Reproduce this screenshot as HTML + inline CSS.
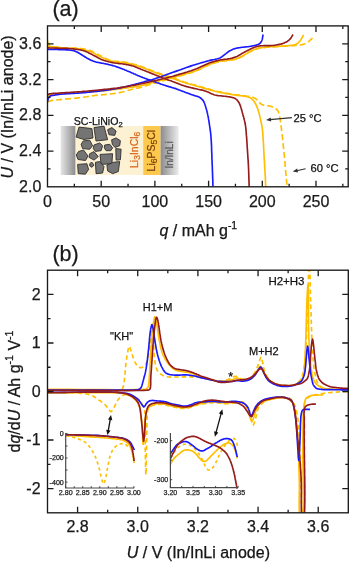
<!DOCTYPE html>
<html><head><meta charset="utf-8"><style>
html,body{margin:0;padding:0;background:#fff;}
svg{display:block;font-family:"Liberation Sans", sans-serif;will-change:transform;}
text{stroke:currentColor;stroke-width:0.25px;}
</style></head><body>
<svg width="350" height="562" viewBox="0 0 350 562">
<rect width="350" height="562" fill="#fff"/>
<defs><clipPath id="ca"><rect x="47.50" y="25.90" width="300.70" height="160.90"/></clipPath><clipPath id="cb"><rect x="47.50" y="270.20" width="300.80" height="242.60"/></clipPath><linearGradient id="gcc" x1="0" x2="1" y1="0" y2="0"><stop offset="0" stop-color="#e6e6e6"/><stop offset="1" stop-color="#8c8c8c"/></linearGradient><linearGradient id="gan" x1="0" x2="1" y1="0" y2="0"><stop offset="0" stop-color="#8c8c8c"/><stop offset="1" stop-color="#ececec"/></linearGradient><marker id="ah" viewBox="0 0 10 10" refX="9" refY="5" markerWidth="5" markerHeight="5" orient="auto-start-reverse"><path d="M0,0L10,5L0,10z" fill="#111"/></marker></defs>
<text x="52.40" y="15.50" font-size="21.50" text-anchor="start" fill="#1a1a1a" style="color:#1a1a1a">(a)</text>
<text x="52.40" y="261.00" font-size="21.50" text-anchor="start" fill="#1a1a1a" style="color:#1a1a1a">(b)</text>
<rect x="60.6" y="126" width="15" height="49" fill="url(#gcc)"/>
<rect x="75.6" y="126" width="67.6" height="49" fill="#fdf1d4"/>
<rect x="143.2" y="126" width="17.4" height="49" fill="#fcc94c"/>
<rect x="160.6" y="126" width="18" height="49" fill="url(#gan)"/>
<polygon points="79.0,127.1 91.9,128.6 93.0,138.0 84.0,139.5 76.1,137.1" fill="#747474" stroke="#2e2e2e" stroke-width="0.9" stroke-linejoin="round"/>
<polygon points="94.0,127.6 104.0,126.1 107.6,139.7 96.0,141.0" fill="#747474" stroke="#2e2e2e" stroke-width="0.9" stroke-linejoin="round"/>
<polygon points="107.6,129.7 111.9,127.6 116.1,131.1 114.7,135.4 109.0,134.7" fill="#747474" stroke="#2e2e2e" stroke-width="0.9" stroke-linejoin="round"/>
<polygon points="83.3,140.9 89.7,140.2 92.6,145.7 89.7,149.3 82.6,148.6 81.1,144.3" fill="#747474" stroke="#2e2e2e" stroke-width="0.9" stroke-linejoin="round"/>
<polygon points="94.0,145.0 99.7,142.9 102.6,145.7 101.1,150.7 95.4,151.4 93.3,148.6" fill="#747474" stroke="#2e2e2e" stroke-width="0.9" stroke-linejoin="round"/>
<polygon points="104.7,145.0 109.8,144.3 112.6,147.9 110.8,150.7 106.1,150.7 104.3,147.9" fill="#747474" stroke="#2e2e2e" stroke-width="0.9" stroke-linejoin="round"/>
<polygon points="111.6,139.8 116.1,137.9 120.4,140.7 119.7,145.7 115.0,147.5 112.3,144.3" fill="#747474" stroke="#2e2e2e" stroke-width="0.9" stroke-linejoin="round"/>
<polygon points="78.5,151.5 83.5,150.0 88.0,156.0 85.5,160.5 78.0,159.5 76.3,155.0" fill="#747474" stroke="#2e2e2e" stroke-width="0.9" stroke-linejoin="round"/>
<polygon points="89.7,153.7 94.0,151.6 98.3,156.6 94.0,160.1 89.0,157.3" fill="#747474" stroke="#2e2e2e" stroke-width="0.9" stroke-linejoin="round"/>
<polygon points="100.0,154.4 112.6,153.7 111.9,163.7 101.1,164.4" fill="#747474" stroke="#2e2e2e" stroke-width="0.9" stroke-linejoin="round"/>
<polygon points="115.8,148.5 121.1,149.2 120.4,159.8 116.1,160.1" fill="#747474" stroke="#2e2e2e" stroke-width="0.9" stroke-linejoin="round"/>
<polygon points="77.6,164.4 86.9,163.7 88.6,169.4 85.4,174.2 78.3,173.7" fill="#747474" stroke="#2e2e2e" stroke-width="0.9" stroke-linejoin="round"/>
<polygon points="89.6,164.0 91.6,162.0 94.0,165.0 92.0,167.3 89.9,166.0" fill="#747474" stroke="#2e2e2e" stroke-width="0.9" stroke-linejoin="round"/>
<polygon points="95.4,162.3 99.7,161.6 104.0,166.6 102.6,173.0 96.1,173.7" fill="#747474" stroke="#2e2e2e" stroke-width="0.9" stroke-linejoin="round"/>
<polygon points="106.9,165.1 113.3,162.3 119.7,161.6 118.3,171.6 112.6,173.7 107.6,170.9" fill="#747474" stroke="#2e2e2e" stroke-width="0.9" stroke-linejoin="round"/>
<text x="73.70" y="124.60" font-size="10.60" text-anchor="start" fill="#111" style="color:#111">SC-LiNiO<tspan font-size="7.6" dy="2.4">2</tspan></text>
<text transform="translate(138.2,168) rotate(-90)" font-size="10.5" fill="#d8691e" style="color:#d8691e">Li<tspan font-size="8.5" dy="2">3</tspan><tspan dy="-2">InCl</tspan><tspan font-size="8.5" dy="2">6</tspan></text>
<text transform="translate(154.6,171.4) rotate(-90)" font-size="10.5" fill="#7a3f0c" style="color:#7a3f0c">Li<tspan font-size="8.5" dy="2">6</tspan><tspan dy="-2">PS</tspan><tspan font-size="8.5" dy="2">5</tspan><tspan dy="-2">Cl</tspan></text>
<text transform="translate(173,168.6) rotate(-90)" font-size="10" fill="#5a5a5a" style="color:#5a5a5a">In/InLi</text>
<g clip-path="url(#ca)"><path d="M47.5,40.7L47.6,41.0L47.7,41.4L47.8,41.7L47.9,42.1L47.9,42.4L48.0,42.8L48.1,43.1L48.2,43.4L48.4,43.7L48.5,44.0L48.6,44.2L48.7,44.4L48.8,44.6L49.0,44.8L49.1,44.9L49.2,45.1L49.4,45.3L49.6,45.4L49.8,45.6L50.0,45.7L50.6,46.0L51.4,46.2L52.2,46.4L53.2,46.6L54.2,46.8L55.3,47.0L56.4,47.1L57.6,47.2L58.8,47.4L60.0,47.5L61.7,47.7L63.7,47.8L65.7,47.8L67.8,47.9L70.0,47.9L72.2,48.0L74.3,48.0L76.3,48.1L78.3,48.2L80.0,48.4L81.2,48.6L82.3,48.7L83.4,48.9L84.4,49.1L85.4,49.3L86.4,49.5L87.3,49.7L88.2,49.9L89.1,50.2L90.0,50.5L90.7,50.8L91.3,51.0L91.9,51.3L92.5,51.6L93.1,51.9L93.7,52.2L94.3,52.6L94.8,52.9L95.4,53.2L96.0,53.5L96.6,53.8L97.2,54.1L97.8,54.4L98.4,54.7L99.0,55.0L99.6,55.3L100.2,55.6L100.8,55.9L101.4,56.2L102.0,56.5L102.7,56.8L103.4,57.2L104.1,57.5L104.8,57.9L105.5,58.3L106.2,58.6L106.9,58.9L107.6,59.3L108.3,59.5L109.0,59.8L109.6,60.0L110.2,60.2L110.8,60.3L111.3,60.5L111.9,60.6L112.5,60.7L113.1,60.9L113.7,61.0L114.3,61.1L115.0,61.2L115.9,61.3L116.8,61.4L117.8,61.5L118.8,61.6L119.8,61.7L120.9,61.7L121.9,61.8L123.0,61.9L124.0,62.0L125.0,62.2L126.0,62.4L127.0,62.6L128.0,62.8L129.0,63.0L130.0,63.3L131.0,63.5L132.0,63.8L133.0,64.0L134.0,64.3L135.0,64.6L136.0,64.9L137.0,65.2L138.0,65.5L139.0,65.8L140.0,66.1L141.0,66.4L142.0,66.8L143.0,67.1L144.0,67.4L145.0,67.8L146.0,68.2L147.0,68.6L148.0,69.0L149.0,69.4L150.0,69.8L150.9,70.2L151.9,70.6L153.0,71.0L154.0,71.4L155.0,71.8L156.1,72.2L157.3,72.6L158.4,73.0L159.6,73.4L160.8,73.9L162.0,74.3L163.1,74.6L164.3,75.0L165.4,75.4L166.5,75.8L167.4,76.1L168.3,76.4L169.1,76.7L170.0,77.0L170.8,77.3L171.6,77.6L172.4,77.9L173.3,78.2L174.1,78.5L175.0,78.8L176.0,79.1L176.9,79.5L177.9,79.9L178.9,80.2L179.9,80.6L181.0,80.9L182.0,81.3L183.0,81.6L184.0,82.0L185.0,82.3L186.0,82.6L187.0,82.9L188.0,83.2L189.0,83.5L190.0,83.7L191.0,84.0L192.0,84.3L193.0,84.5L194.0,84.8L195.0,85.1L196.0,85.4L197.0,85.7L198.0,86.0L199.0,86.3L200.0,86.5L201.0,86.8L202.0,87.1L203.0,87.4L204.0,87.7L205.0,88.0L206.0,88.3L207.0,88.6L208.0,88.9L209.0,89.2L210.0,89.4L211.0,89.7L212.0,90.0L213.0,90.3L214.0,90.5L215.0,90.8L216.0,91.0L217.0,91.3L218.0,91.5L219.0,91.7L220.0,91.9L221.0,92.1L222.0,92.3L223.0,92.5L224.0,92.7L225.0,92.9L226.0,93.1L227.0,93.3L228.0,93.5L229.0,93.6L230.0,93.8L231.0,94.0L232.0,94.1L233.0,94.3L234.0,94.4L235.0,94.6L236.0,94.7L237.0,94.9L238.0,95.0L239.0,95.1L240.0,95.2L241.0,95.3L242.0,95.4L243.0,95.6L244.0,95.7L245.0,95.9L246.0,96.1L247.1,96.2L248.1,96.4L249.1,96.6L250.2,96.8L251.2,97.0L252.2,97.2L253.2,97.5L254.1,97.9L255.0,98.3L255.8,98.8L256.6,99.4L257.3,100.1L258.0,100.8L258.7,101.6L259.3,102.3L260.0,103.0L260.7,103.6L261.3,104.2L262.0,104.6L262.5,104.8L263.0,105.0L263.5,105.1L264.0,105.2L264.5,105.3L265.0,105.3L265.5,105.4L266.0,105.4L266.5,105.5L267.0,105.6L267.5,105.7L268.0,105.8L268.5,105.9L269.0,105.9L269.5,106.0L270.0,106.1L270.5,106.2L271.0,106.4L271.5,106.5L272.0,106.7L272.6,107.0L273.2,107.2L273.8,107.6L274.4,107.9L275.0,108.3L275.6,108.6L276.2,109.1L276.7,109.5L277.2,109.9L277.6,110.4L277.9,110.8L278.2,111.3L278.4,111.7L278.6,112.2L278.7,112.7L278.8,113.2L279.0,113.7L279.1,114.3L279.2,114.9L279.4,115.6L279.7,116.9L280.0,118.4L280.3,120.1L280.5,121.8L280.8,123.7L281.0,125.6L281.3,127.6L281.5,129.6L281.8,131.6L282.0,133.6L282.3,136.0L282.6,138.4L282.8,140.9L283.1,143.5L283.3,146.1L283.6,148.7L283.9,151.4L284.1,154.0L284.4,156.7L284.6,159.3L284.9,162.1L285.1,164.9L285.4,167.7L285.6,170.5L285.9,173.3L286.1,176.2L286.4,179.0L286.6,181.8L286.9,184.7L287.1,187.5" fill="none" stroke="#ffbf00" stroke-width="1.65" stroke-linejoin="round" stroke-dasharray="6,3"/><path d="M47.5,102.0L47.7,101.9L48.0,101.8L48.2,101.7L48.4,101.5L48.6,101.4L48.9,101.3L49.1,101.2L49.4,101.1L49.7,101.0L50.0,100.9L50.7,100.7L51.5,100.6L52.4,100.4L53.3,100.3L54.4,100.2L55.4,100.1L56.5,100.0L57.7,99.8L58.8,99.7L60.0,99.6L61.7,99.4L63.6,99.2L65.6,99.1L67.6,98.9L69.8,98.7L71.9,98.5L74.0,98.3L76.1,98.1L78.1,97.9L80.0,97.7L81.6,97.5L83.3,97.3L84.9,97.0L86.5,96.8L88.1,96.5L89.7,96.3L91.2,96.1L92.5,95.8L93.8,95.7L95.0,95.5L95.6,95.4L96.1,95.4L96.6,95.3L97.0,95.3L97.5,95.2L97.9,95.2L98.4,95.2L98.8,95.1L99.4,95.1L100.0,95.0L101.3,94.9L102.8,94.7L104.5,94.6L106.2,94.4L108.1,94.2L110.0,94.0L111.9,93.8L113.8,93.6L115.7,93.3L117.5,93.0L119.3,92.6L121.2,92.2L123.1,91.8L125.0,91.3L126.9,90.7L128.8,90.2L130.5,89.8L132.2,89.3L133.7,88.9L135.0,88.6L135.6,88.5L136.1,88.4L136.6,88.3L137.1,88.2L137.5,88.1L138.0,88.0L138.4,88.0L138.9,87.9L139.4,87.7L140.0,87.6L141.2,87.3L142.5,86.9L143.8,86.5L145.3,86.0L146.9,85.5L148.5,85.0L150.1,84.5L151.7,84.0L153.4,83.5L155.0,83.0L156.9,82.4L158.8,81.9L160.8,81.3L162.8,80.8L164.8,80.2L166.9,79.6L168.9,79.0L171.0,78.5L173.0,77.9L175.0,77.3L177.0,76.7L179.1,76.1L181.1,75.6L183.2,75.0L185.2,74.4L187.2,73.8L189.2,73.2L191.2,72.6L193.1,72.0L195.0,71.3L196.6,70.7L198.2,70.0L199.8,69.3L201.3,68.5L202.8,67.8L204.3,67.0L205.8,66.3L207.2,65.7L208.6,65.0L210.0,64.5L211.1,64.1L212.1,63.7L213.1,63.4L214.1,63.1L215.1,62.8L216.1,62.5L217.0,62.2L218.0,62.0L219.0,61.7L220.0,61.5L221.0,61.3L222.0,61.2L223.0,61.0L224.1,60.9L225.1,60.8L226.1,60.7L227.1,60.6L228.1,60.5L229.1,60.4L230.0,60.3L230.8,60.2L231.5,60.1L232.2,60.0L232.9,59.8L233.6,59.7L234.3,59.6L235.0,59.5L235.7,59.3L236.3,59.1L237.0,58.9L237.6,58.7L238.2,58.4L238.8,58.2L239.4,57.9L240.0,57.6L240.6,57.3L241.2,57.0L241.8,56.7L242.4,56.3L243.0,56.0L243.7,55.6L244.4,55.2L245.1,54.7L245.8,54.3L246.5,53.8L247.2,53.4L247.9,52.9L248.6,52.5L249.3,52.1L250.0,51.7L250.7,51.4L251.4,51.0L252.2,50.7L252.9,50.4L253.7,50.1L254.4,49.8L255.1,49.6L255.8,49.3L256.4,49.1L257.0,48.9L257.3,48.8L257.6,48.7L257.9,48.6L258.2,48.5L258.4,48.4L258.7,48.3L259.0,48.2L259.3,48.2L259.6,48.1L260.0,48.0L261.0,47.8L262.3,47.7L263.6,47.6L265.2,47.4L266.8,47.3L268.4,47.2L270.1,47.1L271.8,47.0L273.4,46.9L275.0,46.8L276.5,46.7L278.0,46.6L279.6,46.5L281.1,46.4L282.7,46.3L284.2,46.2L285.7,46.1L287.2,46.0L288.6,45.9L290.0,45.8L291.1,45.7L292.2,45.7L293.2,45.6L294.3,45.6L295.3,45.5L296.3,45.4L297.2,45.4L298.2,45.3L299.1,45.1L300.0,45.0L300.7,44.9L301.4,44.7L302.1,44.6L302.8,44.4L303.5,44.2L304.1,44.0L304.8,43.8L305.4,43.6L306.0,43.4L306.5,43.1L306.9,42.9L307.3,42.6L307.7,42.3L308.0,42.1L308.4,41.8L308.7,41.5L309.0,41.2L309.4,40.9L309.7,40.6L310.0,40.3L310.3,40.1L310.5,39.8L310.8,39.6L311.0,39.4L311.3,39.1L311.5,38.9L311.8,38.7L312.0,38.5L312.3,38.2L312.5,38.0" fill="none" stroke="#ffbf00" stroke-width="1.65" stroke-linejoin="round" stroke-dasharray="6,3"/><path d="M47.5,46.4L48.8,46.5L50.0,46.6L51.3,46.8L52.6,46.9L53.8,47.0L55.1,47.2L56.4,47.3L57.6,47.4L58.8,47.5L60.0,47.6L61.0,47.7L62.1,47.7L63.1,47.8L64.1,47.9L65.1,47.9L66.1,48.0L67.0,48.0L68.0,48.1L69.0,48.1L70.0,48.2L71.0,48.3L72.0,48.3L73.0,48.4L74.0,48.5L75.0,48.5L76.0,48.6L77.0,48.7L78.0,48.8L79.0,48.9L80.0,49.1L81.1,49.3L82.2,49.5L83.3,49.7L84.5,50.0L85.6,50.2L86.7,50.5L87.8,50.8L88.8,51.1L89.8,51.4L90.7,51.7L91.3,51.9L91.9,52.2L92.4,52.5L93.0,52.8L93.5,53.1L94.0,53.3L94.5,53.6L95.0,53.9L95.5,54.2L96.0,54.5L96.6,54.8L97.2,55.1L97.8,55.4L98.3,55.7L98.9,55.9L99.5,56.2L100.2,56.5L100.8,56.8L101.4,57.1L102.0,57.4L102.7,57.7L103.4,58.1L104.1,58.4L104.8,58.8L105.5,59.1L106.2,59.5L106.9,59.8L107.6,60.1L108.3,60.4L109.0,60.6L109.6,60.8L110.2,60.9L110.8,61.1L111.3,61.2L111.9,61.3L112.5,61.4L113.1,61.5L113.7,61.6L114.3,61.7L115.0,61.8L115.9,61.9L116.8,62.0L117.8,62.1L118.8,62.2L119.8,62.3L120.9,62.3L121.9,62.4L123.0,62.5L124.0,62.6L125.0,62.8L126.0,63.0L127.0,63.2L128.0,63.4L129.0,63.6L130.0,63.9L131.0,64.1L132.0,64.4L133.0,64.6L134.0,64.9L135.0,65.2L136.0,65.5L137.0,65.8L138.0,66.1L139.0,66.4L140.0,66.8L141.0,67.1L142.0,67.4L143.0,67.8L144.0,68.1L145.0,68.5L146.0,68.9L147.0,69.3L148.0,69.7L149.0,70.1L150.0,70.5L150.9,70.9L151.9,71.3L153.0,71.7L154.0,72.1L155.0,72.5L156.1,72.9L157.3,73.3L158.4,73.7L159.6,74.1L160.8,74.5L162.0,74.9L163.1,75.3L164.3,75.7L165.4,76.0L166.5,76.4L167.4,76.7L168.3,77.0L169.1,77.3L170.0,77.6L170.8,77.9L171.6,78.1L172.4,78.4L173.3,78.7L174.1,79.0L175.0,79.3L176.0,79.6L176.9,80.0L177.9,80.3L178.9,80.7L179.9,81.1L181.0,81.4L182.0,81.8L183.0,82.1L184.0,82.5L185.0,82.8L186.0,83.1L187.0,83.4L188.0,83.7L189.0,84.0L190.0,84.2L191.0,84.5L192.0,84.8L193.0,85.0L194.0,85.3L195.0,85.6L196.0,85.9L197.0,86.2L198.0,86.5L199.0,86.8L200.0,87.0L201.0,87.3L202.0,87.6L203.0,87.9L204.0,88.2L205.0,88.5L206.0,88.8L207.0,89.1L208.0,89.4L209.0,89.7L210.0,89.9L211.0,90.2L212.0,90.5L213.0,90.8L214.0,91.0L215.0,91.3L216.0,91.5L217.0,91.8L218.0,92.0L219.0,92.2L220.0,92.4L221.0,92.6L222.0,92.8L223.0,93.0L224.0,93.2L225.0,93.4L226.0,93.6L227.0,93.8L228.0,94.0L229.0,94.1L230.0,94.3L231.0,94.5L232.0,94.6L233.0,94.8L234.0,95.0L235.0,95.1L236.0,95.2L237.1,95.4L238.1,95.5L239.2,95.6L240.2,95.7L241.3,95.8L242.3,95.9L243.2,96.0L244.1,96.1L245.0,96.3L245.6,96.4L246.1,96.5L246.7,96.6L247.2,96.7L247.7,96.8L248.2,97.0L248.6,97.1L249.1,97.3L249.6,97.5L250.0,97.7L250.4,98.0L250.9,98.3L251.3,98.6L251.7,98.9L252.1,99.3L252.5,99.6L252.9,100.0L253.3,100.4L253.7,100.9L254.0,101.3L254.4,101.8L254.7,102.3L255.0,102.8L255.3,103.4L255.6,104.0L255.9,104.5L256.2,105.1L256.5,105.8L256.7,106.4L257.0,107.0L257.3,107.7L257.6,108.5L257.9,109.3L258.1,110.1L258.4,110.9L258.6,111.7L258.9,112.5L259.1,113.3L259.3,114.1L259.5,114.9L259.7,115.6L259.8,116.2L260.0,116.9L260.1,117.5L260.3,118.1L260.4,118.8L260.5,119.4L260.6,120.0L260.8,120.7L260.9,121.3L261.0,122.0L261.2,122.6L261.3,123.3L261.5,124.0L261.6,124.6L261.7,125.3L261.9,126.0L262.0,126.6L262.1,127.3L262.2,128.0L262.3,128.7L262.4,129.3L262.5,130.0L262.5,130.6L262.6,131.3L262.7,131.9L262.7,132.6L262.8,133.4L262.8,134.2L262.9,135.0L263.0,136.6L263.1,138.4L263.2,140.3L263.4,142.4L263.5,144.5L263.6,146.7L263.7,148.9L263.8,151.0L263.9,153.1L264.0,155.0L264.1,156.6L264.2,158.1L264.3,159.6L264.4,161.1L264.5,162.6L264.5,164.0L264.6,165.5L264.7,167.0L264.8,168.5L264.9,170.0L265.0,171.7L265.1,173.4L265.2,175.2L265.3,176.9L265.4,178.7L265.4,180.4L265.5,182.2L265.6,184.0L265.7,185.7L265.8,187.5" fill="none" stroke="#ffbf00" stroke-width="1.65" stroke-linejoin="round"/><path d="M47.5,96.0L47.7,95.9L48.0,95.7L48.2,95.6L48.4,95.4L48.6,95.3L48.9,95.1L49.1,95.0L49.4,94.8L49.7,94.7L50.0,94.6L50.7,94.4L51.5,94.2L52.4,94.1L53.3,94.0L54.4,93.9L55.4,93.8L56.5,93.8L57.7,93.7L58.8,93.6L60.0,93.5L61.7,93.4L63.6,93.2L65.6,93.1L67.6,93.0L69.7,92.8L71.9,92.7L74.0,92.6L76.1,92.5L78.1,92.4L80.0,92.3L81.6,92.2L83.1,92.2L84.6,92.1L86.0,92.1L87.4,92.1L88.9,92.0L90.3,92.0L91.8,91.9L93.4,91.8L95.0,91.7L97.1,91.5L99.3,91.3L101.6,91.1L104.0,90.8L106.4,90.6L108.8,90.3L111.1,90.0L113.3,89.7L115.5,89.4L117.5,89.2L118.9,89.0L120.3,88.9L121.6,88.7L122.8,88.5L124.1,88.3L125.3,88.2L126.5,88.0L127.6,87.8L128.8,87.7L130.0,87.5L131.0,87.3L132.0,87.2L133.0,87.1L134.0,86.9L135.0,86.8L135.9,86.7L136.9,86.5L137.9,86.3L138.9,86.1L140.0,85.9L141.4,85.6L142.8,85.2L144.2,84.9L145.7,84.4L147.2,84.0L148.7,83.6L150.2,83.1L151.8,82.7L153.4,82.2L155.0,81.8L156.9,81.3L158.8,80.8L160.8,80.3L162.8,79.8L164.8,79.3L166.9,78.8L168.9,78.3L171.0,77.8L173.0,77.2L175.0,76.7L177.0,76.2L179.1,75.6L181.1,75.1L183.2,74.6L185.2,74.0L187.2,73.5L189.2,72.9L191.2,72.3L193.1,71.7L195.0,71.0L196.6,70.4L198.2,69.7L199.8,69.0L201.3,68.2L202.8,67.5L204.3,66.8L205.8,66.1L207.2,65.4L208.6,64.8L210.0,64.2L211.1,63.8L212.1,63.4L213.1,63.1L214.1,62.7L215.1,62.4L216.1,62.1L217.0,61.8L218.0,61.6L219.0,61.3L220.0,61.1L221.0,60.9L222.0,60.8L223.0,60.6L224.1,60.6L225.1,60.5L226.1,60.4L227.1,60.3L228.1,60.2L229.1,60.1L230.0,60.0L230.8,59.9L231.5,59.8L232.2,59.7L232.9,59.5L233.6,59.4L234.3,59.3L235.0,59.2L235.7,59.0L236.3,58.8L237.0,58.6L237.6,58.4L238.2,58.1L238.8,57.9L239.4,57.6L240.0,57.3L240.6,57.0L241.2,56.7L241.8,56.4L242.4,56.0L243.0,55.7L243.7,55.3L244.4,54.9L245.1,54.4L245.8,54.0L246.5,53.5L247.2,53.1L247.9,52.6L248.6,52.2L249.3,51.8L250.0,51.4L250.7,51.1L251.4,50.7L252.2,50.4L252.9,50.1L253.7,49.8L254.4,49.5L255.1,49.3L255.8,49.0L256.4,48.8L257.0,48.6L257.3,48.5L257.6,48.4L257.9,48.3L258.2,48.2L258.4,48.1L258.7,48.1L259.0,48.0L259.3,47.9L259.6,47.9L260.0,47.8L261.0,47.6L262.3,47.5L263.7,47.4L265.2,47.2L266.8,47.1L268.4,47.0L270.1,46.8L271.8,46.7L273.4,46.6L275.0,46.5L276.5,46.4L278.1,46.3L279.7,46.2L281.3,46.1L282.9,46.0L284.5,46.0L286.0,45.9L287.4,45.8L288.8,45.6L290.0,45.5L290.7,45.4L291.4,45.3L292.1,45.3L292.7,45.2L293.3,45.1L293.9,45.0L294.4,44.9L295.0,44.7L295.5,44.5L296.0,44.3L296.5,44.1L296.9,43.8L297.3,43.5L297.7,43.2L298.1,42.8L298.5,42.5L298.9,42.1L299.3,41.7L299.6,41.3L300.0,40.9L300.4,40.4L300.8,39.8L301.2,39.3L301.5,38.7L301.9,38.0L302.2,37.4L302.6,36.8L302.9,36.1L303.2,35.5L303.6,34.9" fill="none" stroke="#ffbf00" stroke-width="1.65" stroke-linejoin="round"/><path d="M47.5,49.3L48.8,49.3L50.0,49.4L51.3,49.4L52.6,49.4L53.8,49.4L55.1,49.5L56.4,49.5L57.6,49.5L58.8,49.6L60.0,49.6L61.1,49.6L62.1,49.7L63.2,49.7L64.3,49.7L65.4,49.8L66.4,49.8L67.4,49.9L68.3,49.9L69.2,50.0L70.0,50.1L70.5,50.2L70.9,50.2L71.4,50.3L71.8,50.3L72.2,50.4L72.5,50.5L72.9,50.5L73.3,50.6L73.6,50.7L74.0,50.8L74.3,50.9L74.6,51.0L74.9,51.1L75.2,51.2L75.5,51.3L75.8,51.5L76.1,51.6L76.4,51.7L76.7,51.9L77.0,52.0L77.3,52.2L77.6,52.3L77.9,52.5L78.2,52.7L78.5,52.8L78.8,53.0L79.1,53.2L79.4,53.4L79.7,53.6L80.0,53.8L80.4,54.0L80.8,54.3L81.2,54.5L81.6,54.8L82.0,55.0L82.4,55.3L82.8,55.5L83.2,55.8L83.6,56.1L84.0,56.3L84.4,56.5L84.8,56.8L85.2,57.0L85.6,57.3L86.0,57.5L86.4,57.7L86.8,58.0L87.1,58.2L87.5,58.4L87.9,58.6L88.2,58.8L88.5,58.9L88.8,59.1L89.1,59.3L89.4,59.4L89.7,59.6L90.0,59.7L90.3,59.9L90.7,60.0L91.0,60.2L91.4,60.4L91.9,60.6L92.4,60.8L92.9,61.0L93.4,61.2L93.9,61.3L94.4,61.5L94.9,61.7L95.5,61.8L96.0,62.0L96.6,62.2L97.2,62.3L97.8,62.4L98.4,62.5L99.0,62.6L99.6,62.8L100.2,62.9L100.8,63.0L101.4,63.1L102.0,63.2L102.6,63.3L103.2,63.4L103.8,63.5L104.4,63.7L105.0,63.8L105.6,63.9L106.2,64.0L106.8,64.1L107.4,64.3L108.0,64.4L108.7,64.6L109.4,64.7L110.0,64.9L110.7,65.0L111.4,65.2L112.1,65.4L112.8,65.6L113.5,65.8L114.3,66.0L115.0,66.2L115.9,66.5L116.9,66.9L117.9,67.2L119.0,67.6L120.0,68.0L121.0,68.4L122.1,68.8L123.1,69.2L124.1,69.6L125.0,70.0L125.8,70.3L126.5,70.6L127.2,70.9L128.0,71.2L128.7,71.5L129.4,71.8L130.1,72.1L130.8,72.4L131.5,72.7L132.2,73.0L133.0,73.3L133.7,73.7L134.5,74.0L135.3,74.3L136.0,74.7L136.8,75.0L137.6,75.4L138.4,75.7L139.2,76.1L140.0,76.4L140.9,76.8L141.8,77.1L142.7,77.5L143.7,77.8L144.6,78.2L145.6,78.5L146.5,78.9L147.4,79.2L148.4,79.6L149.3,79.9L150.2,80.2L151.1,80.5L151.9,80.9L152.8,81.2L153.7,81.5L154.5,81.8L155.4,82.1L156.3,82.4L157.1,82.7L158.0,83.0L158.9,83.3L159.7,83.6L160.6,83.9L161.4,84.2L162.3,84.5L163.1,84.8L163.9,85.1L164.8,85.3L165.6,85.6L166.5,85.9L167.4,86.2L168.2,86.4L169.1,86.7L170.0,86.9L170.9,87.2L171.8,87.4L172.6,87.7L173.4,87.9L174.2,88.2L175.0,88.4L175.6,88.6L176.1,88.8L176.6,89.0L177.1,89.2L177.6,89.4L178.1,89.5L178.5,89.7L179.0,89.9L179.5,90.1L180.0,90.3L180.5,90.5L181.0,90.7L181.5,90.9L182.0,91.1L182.5,91.3L183.0,91.4L183.5,91.6L184.0,91.8L184.5,92.0L185.0,92.2L185.5,92.4L186.0,92.6L186.5,92.7L187.0,92.9L187.5,93.1L188.0,93.3L188.5,93.5L189.0,93.6L189.5,93.8L190.0,94.0L190.5,94.2L191.0,94.4L191.5,94.6L192.0,94.7L192.5,94.9L193.0,95.1L193.5,95.3L194.0,95.5L194.5,95.6L195.0,95.8L195.4,95.9L195.8,96.0L196.3,96.1L196.7,96.2L197.1,96.3L197.5,96.4L197.9,96.6L198.3,96.7L198.6,96.8L199.0,97.0L199.3,97.2L199.7,97.4L200.0,97.6L200.3,97.8L200.6,98.0L200.9,98.3L201.2,98.5L201.5,98.8L201.7,99.0L202.0,99.3L202.2,99.6L202.5,99.8L202.7,100.1L202.9,100.3L203.1,100.6L203.3,100.9L203.5,101.1L203.6,101.4L203.8,101.8L204.0,102.1L204.2,102.6L204.5,103.1L204.7,103.7L204.9,104.2L205.1,104.9L205.3,105.5L205.5,106.1L205.6,106.7L205.8,107.3L206.0,107.9L206.2,108.5L206.3,109.0L206.5,109.6L206.7,110.2L206.8,110.7L207.0,111.3L207.1,111.9L207.2,112.5L207.4,113.0L207.5,113.6L207.6,114.2L207.7,114.7L207.9,115.3L208.0,115.9L208.1,116.4L208.2,117.0L208.3,117.6L208.4,118.2L208.5,118.7L208.6,119.3L208.7,119.9L208.8,120.4L208.9,121.0L209.0,121.6L209.1,122.1L209.1,122.7L209.2,123.2L209.3,123.8L209.4,124.4L209.5,125.0L209.6,125.7L209.7,126.3L209.8,127.0L209.9,127.7L210.0,128.4L210.1,129.1L210.2,129.8L210.3,130.6L210.4,131.3L210.5,132.0L210.6,132.8L210.7,133.5L210.7,134.2L210.8,135.0L210.9,135.7L210.9,136.5L211.0,137.3L211.1,138.2L211.1,139.1L211.2,140.0L211.3,141.6L211.4,143.5L211.5,145.4L211.6,147.5L211.6,149.6L211.7,151.8L211.8,153.9L211.9,156.0L211.9,158.1L212.0,160.0L212.1,161.6L212.1,163.2L212.2,164.7L212.3,166.2L212.3,167.7L212.4,169.2L212.4,170.7L212.5,172.1L212.5,173.6L212.6,175.0L212.6,176.3L212.7,177.6L212.7,178.8L212.8,180.1L212.8,181.3L212.8,182.6L212.9,183.8L212.9,185.0L213.0,186.3L213.0,187.5" fill="none" stroke="#1a1aff" stroke-width="1.65" stroke-linejoin="round"/><path d="M47.5,101.7L47.6,101.4L47.6,101.0L47.7,100.7L47.8,100.4L47.8,100.1L47.9,99.7L48.0,99.4L48.1,99.1L48.2,98.8L48.3,98.5L48.4,98.2L48.6,98.0L48.7,97.7L48.8,97.5L49.0,97.2L49.2,97.0L49.3,96.8L49.5,96.6L49.8,96.4L50.0,96.2L50.4,96.0L50.8,95.8L51.3,95.7L51.8,95.5L52.3,95.4L52.8,95.3L53.4,95.3L53.9,95.2L54.5,95.1L55.0,95.0L55.5,94.9L55.9,94.8L56.4,94.8L56.8,94.7L57.3,94.6L57.8,94.6L58.3,94.5L58.8,94.4L59.4,94.4L60.0,94.3L61.5,94.2L63.2,94.0L65.1,93.9L67.2,93.8L69.3,93.7L71.6,93.5L73.8,93.4L76.0,93.3L78.1,93.1L80.0,93.0L81.6,92.9L83.3,92.7L84.9,92.6L86.5,92.4L88.1,92.2L89.7,92.1L91.2,91.9L92.5,91.8L93.8,91.6L95.0,91.5L95.6,91.4L96.1,91.4L96.6,91.3L97.0,91.3L97.5,91.3L97.9,91.2L98.4,91.2L98.9,91.1L99.4,91.1L100.0,91.0L101.3,90.8L102.9,90.6L104.6,90.4L106.4,90.2L108.3,89.9L110.2,89.6L112.1,89.3L114.0,89.0L115.8,88.7L117.5,88.4L118.8,88.1L120.2,87.9L121.5,87.6L122.7,87.3L124.0,87.0L125.2,86.8L126.4,86.5L127.6,86.2L128.8,85.9L130.0,85.6L131.0,85.3L132.0,85.1L133.0,84.9L134.0,84.6L134.9,84.4L135.9,84.1L136.9,83.8L137.9,83.6L138.9,83.3L140.0,83.0L141.4,82.6L142.8,82.2L144.2,81.9L145.7,81.4L147.2,81.0L148.7,80.6L150.3,80.1L151.8,79.7L153.4,79.2L155.0,78.7L156.9,78.1L158.8,77.4L160.8,76.7L162.8,76.0L164.8,75.3L166.9,74.5L168.9,73.8L171.0,73.0L173.0,72.3L175.0,71.6L177.0,70.9L179.0,70.2L181.1,69.5L183.1,68.7L185.2,68.0L187.2,67.3L189.2,66.6L191.2,65.9L193.1,65.3L195.0,64.7L196.6,64.2L198.2,63.7L199.7,63.3L201.3,62.8L202.8,62.4L204.3,62.0L205.8,61.5L207.2,61.1L208.6,60.8L210.0,60.4L211.1,60.1L212.2,59.9L213.3,59.7L214.3,59.5L215.4,59.2L216.4,59.0L217.4,58.8L218.3,58.5L219.2,58.2L220.0,57.9L220.6,57.6L221.2,57.3L221.7,56.9L222.2,56.6L222.6,56.2L223.1,55.8L223.6,55.4L224.0,55.0L224.5,54.7L225.0,54.3L225.5,53.9L226.0,53.6L226.5,53.2L227.0,52.8L227.5,52.4L228.0,52.0L228.5,51.7L229.0,51.3L229.5,51.0L230.0,50.7L230.5,50.4L231.0,50.2L231.5,49.9L232.0,49.7L232.5,49.5L233.0,49.3L233.5,49.1L234.0,48.9L234.5,48.8L235.0,48.6L235.5,48.5L236.0,48.3L236.4,48.2L236.9,48.1L237.4,48.0L237.9,47.9L238.4,47.9L238.9,47.8L239.4,47.7L240.0,47.6L240.9,47.5L241.8,47.3L242.9,47.2L243.9,47.1L245.0,47.0L246.1,46.9L247.1,46.8L248.2,46.7L249.1,46.5L250.0,46.4L250.6,46.3L251.1,46.2L251.7,46.1L252.2,46.0L252.7,45.9L253.2,45.8L253.7,45.7L254.1,45.6L254.6,45.5L255.0,45.4L255.3,45.3L255.7,45.2L256.0,45.2L256.3,45.1L256.6,45.0L256.9,44.9L257.2,44.8L257.5,44.7L257.7,44.6L258.0,44.5L258.2,44.4L258.4,44.3L258.7,44.2L258.9,44.1L259.1,44.0L259.3,43.9L259.4,43.8L259.6,43.7L259.8,43.6L260.0,43.4L260.2,43.2L260.5,42.9L260.7,42.6L260.9,42.3L261.1,41.9L261.3,41.5L261.5,41.2L261.7,40.8L261.8,40.4L262.0,40.0L262.2,39.5L262.3,39.0L262.4,38.5L262.5,37.9L262.6,37.3L262.7,36.8L262.8,36.2L262.9,35.6L263.0,35.1L263.1,34.5" fill="none" stroke="#1a1aff" stroke-width="1.65" stroke-linejoin="round"/><path d="M47.5,47.9L48.8,47.9L50.0,48.0L51.3,48.0L52.6,48.0L53.8,48.0L55.1,48.1L56.4,48.1L57.6,48.1L58.8,48.2L60.0,48.2L61.1,48.2L62.1,48.3L63.1,48.3L64.1,48.3L65.1,48.4L66.1,48.4L67.1,48.4L68.1,48.5L69.1,48.5L70.0,48.6L70.8,48.7L71.7,48.7L72.5,48.8L73.3,48.9L74.1,49.0L74.9,49.1L75.7,49.2L76.5,49.3L77.3,49.4L78.0,49.5L78.6,49.6L79.3,49.7L79.9,49.8L80.5,49.9L81.1,50.0L81.7,50.2L82.2,50.3L82.8,50.5L83.4,50.6L84.0,50.8L84.6,51.0L85.2,51.2L85.8,51.5L86.4,51.8L87.0,52.0L87.6,52.3L88.2,52.6L88.8,52.9L89.4,53.2L90.0,53.5L90.5,53.8L91.1,54.0L91.6,54.3L92.2,54.6L92.7,54.9L93.2,55.2L93.7,55.5L94.3,55.7L94.8,56.0L95.3,56.3L95.8,56.6L96.3,56.8L96.7,57.1L97.2,57.3L97.7,57.6L98.1,57.9L98.6,58.1L99.1,58.3L99.5,58.6L100.0,58.8L100.4,59.0L100.9,59.2L101.3,59.4L101.7,59.6L102.1,59.7L102.5,59.9L103.0,60.1L103.4,60.3L103.9,60.4L104.4,60.6L105.2,60.8L106.0,61.1L106.9,61.3L107.8,61.5L108.7,61.8L109.7,62.0L110.6,62.2L111.6,62.4L112.6,62.6L113.6,62.8L114.7,63.0L115.8,63.2L117.0,63.3L118.2,63.4L119.4,63.6L120.6,63.7L121.7,63.8L122.9,64.0L124.0,64.1L125.0,64.3L125.8,64.4L126.5,64.6L127.3,64.7L128.0,64.8L128.7,65.0L129.4,65.1L130.1,65.2L130.8,65.4L131.5,65.6L132.2,65.8L133.0,66.0L133.7,66.3L134.5,66.6L135.3,66.9L136.1,67.2L136.8,67.5L137.6,67.8L138.4,68.2L139.2,68.5L140.0,68.8L140.9,69.2L141.8,69.5L142.7,69.9L143.7,70.3L144.6,70.6L145.6,71.0L146.5,71.4L147.4,71.8L148.4,72.1L149.3,72.5L150.2,72.9L151.1,73.2L151.9,73.6L152.8,73.9L153.7,74.3L154.5,74.6L155.4,75.0L156.3,75.3L157.1,75.7L158.0,76.0L158.9,76.3L159.7,76.7L160.6,77.0L161.4,77.3L162.3,77.7L163.1,78.0L164.0,78.3L164.8,78.7L165.6,79.0L166.5,79.3L167.3,79.6L168.2,79.9L169.0,80.2L169.9,80.5L170.7,80.8L171.5,81.1L172.4,81.5L173.3,81.8L174.1,82.1L175.0,82.4L176.0,82.8L176.9,83.1L177.9,83.5L178.9,83.9L179.9,84.3L180.9,84.7L182.0,85.1L183.0,85.4L184.0,85.8L185.0,86.1L186.0,86.4L187.0,86.7L188.0,86.9L189.0,87.2L190.0,87.4L191.0,87.7L192.0,87.9L193.0,88.1L194.0,88.4L195.0,88.6L196.0,88.8L197.0,89.0L198.0,89.3L199.0,89.5L200.0,89.7L201.0,89.9L202.0,90.1L203.0,90.3L204.0,90.6L205.0,90.9L206.0,91.3L207.0,91.7L208.0,92.1L209.0,92.5L210.0,93.0L211.0,93.5L212.0,93.9L213.0,94.3L214.0,94.7L215.0,95.0L216.0,95.2L217.0,95.4L218.0,95.6L219.1,95.7L220.1,95.8L221.1,95.9L222.1,96.0L223.1,96.1L224.1,96.2L225.0,96.3L225.8,96.4L226.5,96.5L227.3,96.6L228.0,96.7L228.7,96.8L229.4,96.9L230.1,97.0L230.8,97.1L231.4,97.2L232.0,97.4L232.5,97.5L232.9,97.7L233.3,97.8L233.7,97.9L234.1,98.1L234.5,98.3L234.9,98.4L235.3,98.6L235.7,98.9L236.0,99.1L236.4,99.4L236.7,99.7L237.0,100.0L237.3,100.4L237.6,100.7L237.9,101.1L238.2,101.5L238.5,101.9L238.7,102.3L239.0,102.7L239.3,103.1L239.5,103.6L239.7,104.1L239.9,104.6L240.1,105.1L240.3,105.6L240.5,106.1L240.6,106.6L240.8,107.2L241.0,107.7L241.2,108.4L241.4,109.1L241.6,109.8L241.8,110.5L242.0,111.3L242.2,112.0L242.4,112.8L242.6,113.5L242.8,114.2L243.0,114.9L243.2,115.5L243.3,116.1L243.5,116.6L243.6,117.2L243.8,117.8L243.9,118.3L244.1,118.9L244.2,119.4L244.4,120.0L244.5,120.5L244.6,121.0L244.7,121.4L244.8,121.9L244.9,122.3L245.0,122.8L245.1,123.2L245.2,123.6L245.2,124.1L245.3,124.5L245.4,125.0L245.5,125.5L245.5,125.9L245.6,126.4L245.7,126.8L245.7,127.3L245.8,127.8L245.8,128.3L245.9,128.8L245.9,129.4L246.0,130.0L246.1,131.2L246.2,132.5L246.3,133.9L246.4,135.4L246.6,137.0L246.7,138.6L246.8,140.2L246.9,141.9L247.0,143.5L247.1,145.0L247.2,146.5L247.3,148.0L247.4,149.6L247.5,151.1L247.6,152.7L247.7,154.2L247.8,155.7L247.9,157.2L248.0,158.6L248.1,160.0L248.2,161.1L248.2,162.1L248.3,163.1L248.3,164.0L248.4,165.0L248.4,165.9L248.5,166.9L248.5,167.9L248.6,168.9L248.6,170.0L248.7,171.6L248.7,173.2L248.8,174.9L248.8,176.6L248.9,178.4L249.0,180.3L249.0,182.1L249.1,183.9L249.1,185.7L249.2,187.5" fill="none" stroke="#951c1c" stroke-width="1.65" stroke-linejoin="round"/><path d="M47.5,94.6L47.7,94.5L48.0,94.4L48.2,94.4L48.4,94.3L48.6,94.2L48.9,94.1L49.1,94.0L49.4,93.9L49.7,93.9L50.0,93.8L50.7,93.7L51.5,93.6L52.4,93.5L53.3,93.4L54.4,93.3L55.4,93.3L56.5,93.2L57.7,93.2L58.8,93.1L60.0,93.0L61.7,92.9L63.6,92.8L65.6,92.6L67.6,92.5L69.8,92.4L71.9,92.2L74.0,92.1L76.1,92.0L78.1,91.8L80.0,91.7L81.6,91.6L83.3,91.4L84.9,91.3L86.5,91.2L88.1,91.0L89.7,90.9L91.2,90.8L92.5,90.6L93.8,90.5L95.0,90.4L95.6,90.3L96.1,90.3L96.6,90.2L97.0,90.2L97.5,90.2L97.9,90.1L98.4,90.1L98.8,90.0L99.4,90.0L100.0,89.9L101.3,89.8L102.9,89.6L104.6,89.4L106.4,89.3L108.3,89.1L110.2,88.9L112.1,88.6L114.0,88.4L115.8,88.2L117.5,88.0L118.8,87.8L120.2,87.6L121.5,87.4L122.7,87.2L124.0,87.0L125.2,86.8L126.4,86.6L127.6,86.4L128.8,86.2L130.0,86.0L131.0,85.8L132.0,85.6L133.0,85.4L134.0,85.2L134.9,85.1L135.9,84.9L136.9,84.7L137.9,84.4L138.9,84.2L140.0,84.0L141.4,83.7L142.8,83.4L144.2,83.1L145.7,82.8L147.2,82.4L148.7,82.1L150.3,81.7L151.8,81.4L153.4,81.0L155.0,80.6L156.9,80.2L158.8,79.7L160.8,79.2L162.8,78.7L164.8,78.2L166.9,77.7L168.9,77.2L171.0,76.7L173.0,76.2L175.0,75.6L177.0,75.0L179.1,74.4L181.1,73.8L183.2,73.2L185.2,72.6L187.2,72.0L189.2,71.3L191.2,70.7L193.1,70.0L195.0,69.3L196.6,68.7L198.2,68.0L199.8,67.3L201.3,66.6L202.8,65.9L204.3,65.2L205.8,64.5L207.2,63.9L208.6,63.3L210.0,62.8L211.1,62.4L212.1,62.1L213.1,61.8L214.1,61.5L215.1,61.2L216.1,60.9L217.0,60.7L218.0,60.4L219.0,60.2L220.0,60.0L221.0,59.8L222.0,59.7L223.1,59.5L224.1,59.4L225.1,59.3L226.1,59.2L227.1,59.1L228.1,58.9L229.1,58.8L230.0,58.6L230.8,58.4L231.5,58.2L232.2,58.1L232.9,57.9L233.6,57.6L234.3,57.4L235.0,57.2L235.7,56.9L236.3,56.7L237.0,56.4L237.6,56.1L238.2,55.8L238.8,55.4L239.4,55.1L240.0,54.7L240.6,54.4L241.2,54.0L241.8,53.6L242.4,53.3L243.0,52.9L243.7,52.5L244.4,52.2L245.1,51.8L245.8,51.4L246.5,51.0L247.2,50.7L248.0,50.3L248.7,50.0L249.3,49.6L250.0,49.3L250.5,49.0L251.0,48.8L251.6,48.6L252.0,48.3L252.5,48.1L253.0,47.9L253.5,47.7L254.0,47.5L254.5,47.3L255.0,47.1L255.5,46.9L255.9,46.8L256.4,46.7L256.9,46.5L257.3,46.4L257.8,46.3L258.3,46.2L258.8,46.1L259.4,46.0L260.0,45.9L261.2,45.8L262.5,45.7L264.0,45.6L265.6,45.6L267.2,45.6L268.8,45.6L270.5,45.6L272.1,45.5L273.6,45.4L275.0,45.2L276.1,45.0L277.2,44.8L278.3,44.6L279.3,44.4L280.4,44.2L281.4,43.9L282.4,43.6L283.3,43.3L284.2,43.0L285.0,42.6L285.6,42.3L286.2,42.0L286.7,41.7L287.3,41.4L287.8,41.0L288.2,40.7L288.7,40.3L289.2,39.9L289.6,39.5L290.0,39.1L290.4,38.7L290.7,38.3L291.0,37.8L291.3,37.3L291.6,36.9L291.9,36.4L292.2,35.9L292.4,35.4L292.7,35.0L293.0,34.5" fill="none" stroke="#951c1c" stroke-width="1.65" stroke-linejoin="round"/></g>
<line x1="292.00" y1="117.60" x2="269.98" y2="119.63" stroke="#333" stroke-width="1.10"/><polygon points="266.00,120.00 270.79,117.55 271.16,121.53" fill="#333"/>
<text x="293.50" y="121.80" font-size="11.20" text-anchor="start" fill="#111" style="color:#111">25 °C</text>
<line x1="305.60" y1="168.70" x2="296.60" y2="170.72" stroke="#333" stroke-width="1.10"/><polygon points="292.70,171.60 297.14,168.55 298.02,172.45" fill="#333"/>
<text x="310.50" y="172.40" font-size="11.20" text-anchor="start" fill="#111" style="color:#111">60 °C</text>
<rect x="47.50" y="25.90" width="300.70" height="160.90" fill="none" stroke="#1a1a1a" stroke-width="1.35"/>
<path d="M101.20,186.80v-6.00M101.20,25.90v6.00M154.89,186.80v-6.00M154.89,25.90v6.00M208.59,186.80v-6.00M208.59,25.90v6.00M262.29,186.80v-6.00M262.29,25.90v6.00M315.98,186.80v-6.00M315.98,25.90v6.00M74.35,186.80v-3.00M74.35,25.90v3.00M128.04,186.80v-3.00M128.04,25.90v3.00M181.74,186.80v-3.00M181.74,25.90v3.00M235.44,186.80v-3.00M235.44,25.90v3.00M289.13,186.80v-3.00M289.13,25.90v3.00M342.83,186.80v-3.00M342.83,25.90v3.00M47.50,151.04h6.00M348.20,151.04h-6.00M47.50,115.29h6.00M348.20,115.29h-6.00M47.50,79.53h6.00M348.20,79.53h-6.00M47.50,43.78h6.00M348.20,43.78h-6.00M47.50,168.92h3.00M348.20,168.92h-3.00M47.50,133.17h3.00M348.20,133.17h-3.00M47.50,97.41h3.00M348.20,97.41h-3.00M47.50,61.66h3.00M348.20,61.66h-3.00" stroke="#1a1a1a" stroke-width="1.3" fill="none"/>
<text x="47.50" y="206.80" font-size="16.00" text-anchor="middle" fill="#1a1a1a" style="color:#1a1a1a">0</text>
<text x="101.20" y="206.80" font-size="16.00" text-anchor="middle" fill="#1a1a1a" style="color:#1a1a1a">50</text>
<text x="154.89" y="206.80" font-size="16.00" text-anchor="middle" fill="#1a1a1a" style="color:#1a1a1a">100</text>
<text x="208.59" y="206.80" font-size="16.00" text-anchor="middle" fill="#1a1a1a" style="color:#1a1a1a">150</text>
<text x="262.29" y="206.80" font-size="16.00" text-anchor="middle" fill="#1a1a1a" style="color:#1a1a1a">200</text>
<text x="315.98" y="206.80" font-size="16.00" text-anchor="middle" fill="#1a1a1a" style="color:#1a1a1a">250</text>
<text x="41.30" y="191.90" font-size="16.00" text-anchor="end" fill="#1a1a1a" style="color:#1a1a1a">2.0</text>
<text x="41.30" y="156.14" font-size="16.00" text-anchor="end" fill="#1a1a1a" style="color:#1a1a1a">2.4</text>
<text x="41.30" y="120.39" font-size="16.00" text-anchor="end" fill="#1a1a1a" style="color:#1a1a1a">2.8</text>
<text x="41.30" y="84.63" font-size="16.00" text-anchor="end" fill="#1a1a1a" style="color:#1a1a1a">3.2</text>
<text x="41.30" y="48.88" font-size="16.00" text-anchor="end" fill="#1a1a1a" style="color:#1a1a1a">3.6</text>
<text x="159.40" y="235.70" font-size="16" fill="#1a1a1a"><tspan font-style="italic">q</tspan> / mAh g<tspan font-size="10.5" dy="-6.5">-1</tspan></text>
<text transform="translate(12.80,178.50) rotate(-90)" font-size="16" fill="#1a1a1a"><tspan font-style="italic">U</tspan> / V (In/InLi anode)</text>
<g clip-path="url(#cb)"><path d="M47.5,390.0L55.3,390.1L63.8,390.4L72.8,390.8L81.8,391.2L90.6,391.6L99.0,391.8L106.5,391.9L112.8,391.6L117.8,391.0L121.0,390.0L121.5,389.7L121.9,389.3L122.2,389.0L122.5,388.6L122.7,388.2L122.8,387.8L123.0,387.4L123.1,386.9L123.2,386.5L123.4,386.0L123.6,385.3L123.8,384.6L123.9,383.9L124.0,383.1L124.2,382.3L124.2,381.5L124.3,380.7L124.4,379.8L124.5,378.9L124.6,378.0L124.7,376.8L124.9,375.5L125.0,374.1L125.1,372.7L125.2,371.3L125.4,369.9L125.5,368.5L125.6,367.0L125.7,365.6L125.9,364.3L126.0,363.0L126.2,361.8L126.4,360.5L126.5,359.2L126.7,358.0L126.8,356.8L127.0,355.6L127.2,354.4L127.4,353.3L127.6,352.3L127.8,351.6L127.9,350.8L128.1,350.0L128.2,349.2L128.4,348.4L128.6,347.7L128.7,347.2L128.9,346.7L129.1,346.4L129.3,346.3L129.5,346.4L129.8,346.8L130.0,347.4L130.2,348.2L130.5,349.1L130.8,350.1L131.0,351.1L131.3,352.1L131.6,353.1L131.9,354.0L132.3,355.0L132.6,356.1L133.0,357.2L133.4,358.3L133.9,359.5L134.3,360.6L134.7,361.6L135.2,362.6L135.7,363.5L136.2,364.3L136.5,364.8L136.9,365.2L137.3,365.7L137.6,366.1L138.0,366.4L138.4,366.8L138.8,367.0L139.2,367.3L139.6,367.5L140.0,367.6L140.4,367.7L140.8,367.7L141.2,367.6L141.6,367.6L142.1,367.5L142.5,367.3L142.9,367.1L143.3,366.9L143.7,366.7L144.0,366.5L144.3,366.2L144.6,365.9L144.9,365.6L145.1,365.2L145.4,364.8L145.6,364.4L145.8,364.0L146.0,363.5L146.2,363.1L146.4,362.6L146.7,362.0L146.9,361.3L147.1,360.6L147.3,359.9L147.6,359.1L147.8,358.3L147.9,357.5L148.1,356.7L148.3,355.9L148.5,355.0L148.7,353.8L149.0,352.6L149.2,351.3L149.4,350.0L149.6,348.7L149.8,347.3L150.0,346.0L150.2,344.6L150.3,343.3L150.5,342.0L150.7,340.8L150.8,339.5L150.9,338.3L151.1,337.1L151.2,335.8L151.3,334.6L151.4,333.4L151.6,332.2L151.7,331.1L151.8,330.0L151.9,329.1L152.0,328.1L152.1,327.1L152.1,326.1L152.2,325.1L152.3,324.2L152.4,323.4L152.5,322.8L152.6,322.3L152.8,322.0L152.8,322.0L152.9,321.9L152.9,321.9L153.0,321.9L153.1,321.9L153.1,321.9L153.2,321.9L153.2,321.9L153.3,322.0L153.3,322.0L153.5,322.4L153.6,323.2L153.7,324.2L153.7,325.6L153.7,327.0L153.7,328.6L153.6,330.3L153.6,331.9L153.6,333.5L153.6,335.0L153.6,336.6L153.6,338.4L153.7,340.2L153.7,342.1L153.7,343.9L153.7,345.7L153.7,347.5L153.8,349.1L153.8,350.6L153.9,352.0L153.9,352.7L154.0,353.4L154.0,354.0L154.1,354.6L154.2,355.1L154.2,355.7L154.3,356.2L154.3,356.8L154.4,357.4L154.5,358.0L154.6,358.8L154.7,359.6L154.8,360.4L154.9,361.2L155.0,362.0L155.1,362.9L155.2,363.7L155.4,364.5L155.5,365.3L155.7,366.0L155.9,366.6L156.0,367.2L156.2,367.8L156.4,368.4L156.6,368.9L156.8,369.5L157.0,370.0L157.3,370.5L157.6,371.0L157.9,371.5L158.3,371.9L158.6,372.4L159.0,372.8L159.5,373.2L159.9,373.6L160.4,373.9L160.9,374.3L161.4,374.6L161.9,374.9L162.4,375.2L162.9,375.5L163.5,375.7L164.0,375.9L164.6,376.1L165.1,376.3L165.7,376.4L166.3,376.6L166.9,376.7L167.5,376.8L168.1,376.9L168.8,377.0L169.4,377.0L170.1,377.1L170.7,377.1L171.4,377.1L172.1,377.1L172.8,377.0L173.5,377.0L174.3,377.0L175.0,377.0L175.9,377.0L176.9,377.0L177.9,377.0L178.9,377.0L179.9,377.0L180.9,376.9L182.0,376.9L183.0,376.9L184.0,376.9L185.0,376.9L186.0,376.9L186.9,376.9L187.9,376.9L188.9,376.9L189.8,376.8L190.8,376.8L191.7,376.8L192.6,376.9L193.5,376.9L194.3,376.9L194.9,376.9L195.5,377.0L196.1,377.0L196.6,377.0L197.1,377.1L197.7,377.1L198.2,377.2L198.8,377.2L199.4,377.3L200.0,377.4L200.9,377.5L201.8,377.7L202.8,377.9L203.8,378.2L204.8,378.4L205.9,378.6L206.9,378.9L208.0,379.1L209.0,379.3L210.0,379.5L211.0,379.7L212.0,379.9L213.0,380.1L214.1,380.3L215.1,380.5L216.1,380.7L217.1,380.8L218.1,380.9L219.0,381.0L220.0,381.0L220.9,381.0L221.7,380.9L222.6,380.8L223.4,380.7L224.2,380.5L225.1,380.3L225.8,380.1L226.6,379.9L227.3,379.7L228.0,379.5L228.5,379.3L228.9,379.1L229.3,378.9L229.7,378.7L230.1,378.5L230.5,378.3L230.8,378.1L231.2,377.9L231.6,377.7L232.0,377.5L232.4,377.3L232.8,377.2L233.2,377.0L233.6,376.8L234.0,376.7L234.4,376.5L234.8,376.4L235.2,376.3L235.6,376.3L236.0,376.3L236.4,376.4L236.8,376.5L237.2,376.8L237.6,377.0L238.0,377.3L238.4,377.6L238.8,377.9L239.2,378.1L239.6,378.3L240.0,378.5L240.5,378.6L240.9,378.7L241.4,378.8L241.9,378.9L242.5,379.0L243.0,379.0L243.5,379.0L244.0,379.0L244.5,379.0L245.0,379.0L245.5,379.0L246.0,379.0L246.5,378.9L247.0,378.9L247.6,378.8L248.1,378.7L248.6,378.6L249.1,378.4L249.5,378.2L250.0,378.0L250.6,377.6L251.1,377.2L251.6,376.6L252.2,376.1L252.7,375.4L253.2,374.8L253.7,374.1L254.1,373.4L254.6,372.7L255.0,372.0L255.4,371.3L255.8,370.5L256.2,369.7L256.6,368.9L256.9,368.1L257.2,367.2L257.6,366.4L257.9,365.6L258.2,364.8L258.5,364.0L258.8,363.2L259.1,362.4L259.4,361.5L259.6,360.5L259.9,359.6L260.2,358.8L260.4,358.1L260.7,357.6L260.9,357.2L261.1,357.1L261.3,357.2L261.4,357.4L261.6,357.8L261.7,358.3L261.8,358.9L262.0,359.5L262.1,360.1L262.2,360.8L262.4,361.4L262.5,362.0L262.7,362.7L262.8,363.5L263.0,364.3L263.1,365.1L263.3,365.9L263.5,366.7L263.6,367.6L263.8,368.4L264.0,369.2L264.3,370.0L264.6,370.8L264.9,371.7L265.2,372.5L265.6,373.4L265.9,374.2L266.3,375.1L266.7,375.9L267.1,376.6L267.6,377.3L268.0,378.0L268.4,378.5L268.7,379.0L269.1,379.4L269.4,379.8L269.8,380.2L270.2,380.6L270.6,381.0L271.0,381.3L271.5,381.7L272.0,382.0L272.7,382.4L273.4,382.8L274.1,383.1L274.9,383.5L275.7,383.8L276.6,384.1L277.4,384.3L278.3,384.6L279.1,384.8L280.0,385.0L281.0,385.2L282.0,385.3L283.0,385.4L284.0,385.5L285.1,385.6L286.1,385.6L287.2,385.6L288.1,385.6L289.1,385.6L290.0,385.5L290.7,385.4L291.3,385.4L292.0,385.3L292.6,385.2L293.2,385.0L293.8,384.9L294.3,384.7L294.9,384.5L295.5,384.3L296.0,384.0L296.6,383.7L297.1,383.3L297.7,382.8L298.2,382.4L298.8,381.9L299.3,381.3L299.7,380.8L300.2,380.2L300.6,379.6L301.0,379.0L301.4,378.3L301.7,377.6L302.0,376.8L302.3,376.1L302.5,375.3L302.7,374.4L302.9,373.6L303.1,372.7L303.3,371.9L303.5,371.0L303.7,370.0L303.9,369.0L304.1,368.0L304.2,367.0L304.4,365.9L304.5,364.8L304.6,363.7L304.7,362.5L304.9,361.3L305.0,360.0L305.2,357.9L305.4,355.7L305.5,353.2L305.7,350.7L305.8,348.1L306.0,345.5L306.1,342.8L306.2,340.2L306.4,337.5L306.5,335.0L306.6,332.5L306.7,330.0L306.8,327.5L307.0,325.0L307.0,322.5L307.1,320.0L307.2,317.5L307.3,315.0L307.4,312.5L307.5,310.0L307.6,307.5L307.7,304.9L307.7,302.3L307.8,299.8L307.9,297.2L307.9,294.7L308.0,292.1L308.1,289.7L308.1,287.3L308.2,285.0L308.3,283.1L308.3,281.3L308.4,279.4L308.4,277.5L308.5,275.8L308.5,274.0L308.6,272.4L308.7,270.8L308.7,269.3L308.8,268.0L308.8,267.2L308.9,266.4L308.9,265.6L309.0,264.8L309.0,264.1L309.1,263.4L309.1,262.8L309.2,262.4L309.2,262.1L309.3,262.0L309.4,262.1L309.4,262.4L309.5,262.8L309.5,263.4L309.6,264.1L309.6,264.8L309.7,265.6L309.7,266.4L309.8,267.2L309.8,268.0L309.9,269.4L309.9,270.9L310.0,272.5L310.0,274.2L310.0,276.0L310.1,277.8L310.1,279.7L310.1,281.5L310.2,283.3L310.2,285.0L310.2,286.6L310.3,288.2L310.3,289.9L310.4,291.5L310.4,293.1L310.4,294.7L310.5,296.3L310.5,297.9L310.6,299.4L310.6,301.0L310.6,302.4L310.7,303.9L310.7,305.3L310.8,306.6L310.8,308.0L310.9,309.4L310.9,310.8L311.0,312.2L311.1,313.6L311.1,315.0L311.1,316.5L311.2,317.9L311.2,319.4L311.3,320.9L311.3,322.3L311.4,323.8L311.4,325.3L311.5,326.9L311.5,328.4L311.6,330.0L311.7,331.9L311.7,333.8L311.8,335.8L311.9,337.9L312.0,339.9L312.1,342.0L312.2,344.0L312.3,346.1L312.4,348.1L312.5,350.0L312.6,351.8L312.7,353.6L312.8,355.3L313.0,357.1L313.1,358.9L313.2,360.6L313.4,362.3L313.5,363.9L313.7,365.5L313.9,367.0L314.1,368.1L314.2,369.2L314.4,370.3L314.5,371.3L314.7,372.3L314.9,373.3L315.1,374.3L315.3,375.2L315.5,376.1L315.7,377.0L315.9,377.7L316.0,378.4L316.2,379.0L316.4,379.7L316.6,380.3L316.7,380.9L316.9,381.5L317.2,382.1L317.4,382.7L317.7,383.2L318.0,383.7L318.3,384.1L318.6,384.5L318.9,384.9L319.2,385.3L319.6,385.7L319.9,386.0L320.3,386.4L320.6,386.7L321.0,387.0L321.3,387.3L321.7,387.5L322.0,387.7L322.3,388.0L322.7,388.2L323.0,388.4L323.4,388.5L323.8,388.7L324.2,388.9L324.7,389.0L325.5,389.2L326.4,389.3L327.3,389.4L328.4,389.5L329.4,389.5L330.5,389.5L331.6,389.5L332.8,389.5L333.9,389.5L335.0,389.5L336.3,389.5L337.6,389.5L338.9,389.5L340.2,389.5L341.5,389.5L342.9,389.5L344.3,389.5L345.6,389.5L347.0,389.5L348.3,389.5" fill="none" stroke="#ffbf00" stroke-width="1.65" stroke-linejoin="round" stroke-dasharray="4.5,3"/><path d="M47.5,393.0L50.8,393.0L54.1,393.0L57.5,393.0L61.0,393.0L64.4,393.0L67.7,393.0L70.9,393.0L74.0,393.0L76.8,393.1L79.3,393.3L80.7,393.4L82.0,393.5L83.2,393.6L84.4,393.7L85.5,393.8L86.6,394.0L87.7,394.2L88.7,394.4L89.7,394.7L90.7,395.0L91.6,395.4L92.4,395.8L93.3,396.2L94.1,396.7L94.9,397.2L95.6,397.7L96.4,398.2L97.1,398.8L97.9,399.3L98.6,399.8L99.3,400.3L100.0,400.7L100.6,401.2L101.3,401.6L101.9,402.1L102.6,402.6L103.2,403.0L103.8,403.5L104.4,404.0L104.9,404.5L105.4,405.0L105.8,405.4L106.2,405.9L106.6,406.4L107.0,406.9L107.4,407.4L107.7,407.9L108.1,408.4L108.5,408.8L108.8,409.2L109.0,409.5L109.3,409.8L109.5,410.2L109.7,410.5L110.0,410.8L110.2,411.1L110.4,411.3L110.6,411.5L110.9,411.6L111.1,411.6L111.4,411.5L111.7,411.2L112.1,410.9L112.4,410.4L112.7,409.9L113.0,409.3L113.4,408.7L113.7,408.0L114.0,407.4L114.3,406.9L114.6,406.3L114.9,405.7L115.2,405.0L115.5,404.4L115.8,403.7L116.1,403.1L116.4,402.4L116.7,401.8L117.0,401.2L117.4,400.6L117.8,400.1L118.2,399.5L118.7,399.0L119.1,398.5L119.6,398.0L120.1,397.5L120.6,397.0L121.1,396.6L121.6,396.2L122.1,395.9L122.6,395.6L123.0,395.4L123.5,395.2L123.9,395.0L124.4,394.8L124.9,394.6L125.4,394.5L125.9,394.4L126.4,394.3L126.9,394.3L127.5,394.3L128.1,394.4L128.7,394.5L129.4,394.7L130.0,394.8L130.6,395.1L131.3,395.3L131.9,395.5L132.5,395.8L133.0,396.0L133.5,396.2L133.9,396.4L134.3,396.7L134.7,396.9L135.1,397.1L135.5,397.4L135.9,397.7L136.3,397.9L136.6,398.2L137.0,398.5L137.3,398.8L137.7,399.1L138.0,399.3L138.3,399.6L138.6,399.9L138.9,400.2L139.2,400.5L139.4,400.9L139.7,401.2L140.0,401.5L140.3,401.8L140.5,402.2L140.8,402.5L141.1,402.8L141.3,403.2L141.6,403.5L141.8,403.9L142.1,404.2L142.3,404.6L142.5,405.0L142.7,405.4L143.0,405.9L143.2,406.3L143.4,406.8L143.6,407.2L143.8,407.7L144.0,408.2L144.2,408.8L144.3,409.4L144.5,410.0L144.7,411.2L144.9,412.4L145.0,413.8L145.1,415.3L145.2,416.8L145.2,418.4L145.2,420.1L145.2,421.7L145.3,423.4L145.3,425.0L145.3,426.9L145.3,428.8L145.3,430.8L145.3,432.9L145.3,434.9L145.3,437.0L145.2,439.0L145.2,441.1L145.2,443.1L145.2,445.0L145.2,446.8L145.2,448.5L145.3,450.3L145.3,452.0L145.3,453.7L145.3,455.4L145.4,457.1L145.4,458.8L145.5,460.4L145.5,462.0L145.5,463.5L145.6,465.1L145.6,466.8L145.6,468.6L145.7,470.2L145.7,471.8L145.8,473.1L145.8,474.1L145.9,474.8L145.9,475.0L146.0,474.5L146.0,473.2L146.1,471.2L146.1,468.6L146.2,465.6L146.3,462.4L146.3,459.1L146.4,455.8L146.4,452.7L146.5,450.0L146.5,447.4L146.6,444.8L146.6,442.1L146.7,439.4L146.7,436.7L146.7,434.1L146.8,431.6L146.8,429.2L146.9,427.0L146.9,425.0L146.9,423.9L146.9,422.8L147.0,421.9L147.0,420.9L147.0,420.0L147.0,419.1L147.1,418.3L147.1,417.5L147.1,416.6L147.2,415.8L147.2,415.1L147.3,414.4L147.3,413.7L147.3,413.0L147.4,412.3L147.4,411.6L147.5,411.0L147.6,410.4L147.8,409.8L148.0,409.3L148.2,408.9L148.5,408.5L148.8,408.1L149.1,407.7L149.4,407.4L149.7,407.1L150.1,406.8L150.5,406.5L150.9,406.2L151.3,406.0L151.8,405.7L152.3,405.5L152.9,405.3L153.4,405.1L154.0,405.0L154.6,404.9L155.2,404.8L155.9,404.7L156.5,404.6L157.1,404.5L157.8,404.4L158.5,404.4L159.2,404.4L159.9,404.4L160.7,404.4L161.4,404.5L162.1,404.5L162.9,404.6L163.6,404.7L164.3,404.8L165.0,404.9L165.7,405.1L166.4,405.2L167.1,405.4L167.9,405.6L168.6,405.8L169.3,406.0L170.0,406.2L170.7,406.3L171.4,406.5L172.1,406.7L172.8,406.8L173.6,407.0L174.3,407.2L175.0,407.3L175.8,407.5L176.5,407.6L177.2,407.8L177.9,407.9L178.6,408.0L179.2,408.1L179.8,408.2L180.4,408.3L180.9,408.3L181.5,408.4L182.1,408.4L182.6,408.5L183.2,408.5L183.7,408.5L184.3,408.5L184.9,408.5L185.4,408.4L186.0,408.3L186.6,408.3L187.1,408.2L187.7,408.1L188.3,407.9L188.8,407.8L189.4,407.7L190.0,407.5L190.7,407.3L191.4,407.1L192.1,406.8L192.8,406.6L193.5,406.3L194.2,406.0L194.9,405.7L195.6,405.5L196.4,405.2L197.1,405.0L197.9,404.8L198.7,404.6L199.5,404.4L200.3,404.3L201.1,404.1L201.9,404.0L202.7,403.9L203.5,403.7L204.3,403.6L205.1,403.5L205.8,403.4L206.6,403.3L207.3,403.2L208.0,403.1L208.7,403.0L209.4,402.9L210.2,402.8L210.9,402.8L211.6,402.7L212.3,402.7L213.0,402.7L213.7,402.7L214.4,402.7L215.1,402.7L215.8,402.8L216.6,402.8L217.3,402.8L218.0,402.9L218.7,402.9L219.4,403.0L220.1,403.1L220.8,403.1L221.6,403.2L222.3,403.3L223.0,403.4L223.7,403.5L224.4,403.6L225.2,403.6L225.9,403.7L226.6,403.7L227.3,403.7L228.0,403.7L228.8,403.6L229.5,403.6L230.2,403.5L230.9,403.4L231.6,403.3L232.3,403.2L233.0,403.1L233.7,403.0L234.3,402.9L234.9,402.8L235.5,402.6L236.1,402.5L236.7,402.3L237.2,402.2L237.8,402.1L238.3,401.9L238.9,401.9L239.4,401.8L239.8,401.8L240.3,401.7L240.7,401.7L241.1,401.7L241.5,401.7L241.9,401.7L242.3,401.7L242.7,401.8L243.1,401.9L243.4,402.1L243.7,402.3L244.0,402.6L244.3,403.0L244.6,403.3L244.8,403.7L245.1,404.2L245.3,404.6L245.5,405.1L245.8,405.5L246.0,406.0L246.3,406.6L246.6,407.2L246.8,407.8L247.1,408.4L247.4,409.1L247.6,409.7L247.9,410.4L248.1,411.1L248.4,411.7L248.6,412.4L248.9,413.1L249.1,413.7L249.4,414.4L249.6,415.0L249.8,415.7L250.1,416.4L250.3,417.0L250.6,417.7L250.8,418.3L251.0,419.0L251.2,419.7L251.4,420.5L251.6,421.3L251.8,422.1L252.0,422.9L252.1,423.7L252.3,424.3L252.5,424.8L252.7,425.2L252.9,425.3L253.0,425.3L253.2,425.2L253.3,425.0L253.4,424.8L253.6,424.5L253.7,424.2L253.8,423.9L254.0,423.6L254.1,423.3L254.2,423.0L254.3,422.7L254.5,422.4L254.6,422.0L254.7,421.7L254.8,421.3L254.9,421.0L255.0,420.6L255.1,420.2L255.3,419.8L255.4,419.3L255.6,418.5L255.8,417.5L256.1,416.4L256.3,415.3L256.6,414.2L256.8,413.0L257.1,411.9L257.4,410.8L257.7,409.8L258.0,409.0L258.2,408.5L258.4,408.0L258.7,407.6L258.9,407.2L259.1,406.8L259.4,406.4L259.7,406.1L259.9,405.7L260.2,405.3L260.5,405.0L260.8,404.7L261.1,404.4L261.4,404.0L261.7,403.8L262.0,403.5L262.4,403.2L262.7,402.9L263.1,402.7L263.5,402.4L264.0,402.1L264.8,401.6L265.7,401.2L266.6,400.7L267.6,400.2L268.7,399.8L269.8,399.3L270.9,398.9L272.1,398.5L273.2,398.2L274.3,397.9L275.5,397.6L276.7,397.4L278.0,397.2L279.3,397.0L280.6,396.9L281.8,396.8L283.1,396.8L284.2,396.8L285.3,396.9L286.3,397.0L286.9,397.1L287.5,397.3L288.1,397.5L288.6,397.7L289.1,398.0L289.6,398.2L290.1,398.5L290.5,398.9L291.0,399.2L291.4,399.6L291.8,400.1L292.3,400.6L292.7,401.1L293.0,401.7L293.4,402.3L293.7,402.9L294.0,403.5L294.3,404.2L294.6,404.9L294.9,405.6L295.2,406.5L295.5,407.4L295.8,408.3L296.1,409.3L296.3,410.3L296.6,411.4L296.8,412.4L297.0,413.6L297.2,414.7L297.4,415.9L297.7,417.6L297.9,419.5L298.1,421.4L298.3,423.3L298.4,425.4L298.6,427.5L298.7,429.7L298.8,431.9L299.0,434.1L299.1,436.4L299.3,439.4L299.4,442.5L299.6,445.8L299.7,449.1L299.9,452.5L300.0,456.0L300.1,459.4L300.2,463.0L300.4,466.5L300.5,470.0L300.6,474.0L300.8,478.2L300.9,482.6L301.0,487.0L301.1,491.5L301.2,495.8L301.3,499.9L301.5,503.7L301.7,507.1L302.0,510.0L302.2,511.4L302.3,512.8L302.5,514.1L302.7,515.5L302.9,516.7L303.1,517.8L303.3,518.7L303.5,519.4L303.6,519.9L303.8,520.0L304.2,518.0L304.4,512.7L304.5,504.7L304.6,494.6L304.6,483.2L304.5,471.1L304.5,459.1L304.5,447.8L304.5,437.9L304.6,430.0L304.6,426.2L304.6,422.5L304.5,418.8L304.4,415.3L304.3,412.0L304.3,408.9L304.3,406.1L304.5,403.7L304.9,401.6L305.5,400.0L305.8,399.5L306.1,399.1L306.4,398.7L306.7,398.4L307.1,398.1L307.5,397.9L307.9,397.7L308.3,397.5L308.7,397.2L309.2,397.0L309.9,396.6L310.7,396.3L311.6,396.0L312.5,395.7L313.4,395.4L314.4,395.2L315.4,394.9L316.4,394.7L317.5,394.4L318.5,394.2L319.8,393.9L321.2,393.7L322.7,393.5L324.2,393.3L325.7,393.1L327.2,392.9L328.7,392.7L330.3,392.6L331.8,392.4L333.3,392.3L334.8,392.2L336.3,392.1L337.8,392.0L339.3,391.9L340.8,391.8L342.3,391.7L343.8,391.6L345.3,391.6L346.8,391.5L348.3,391.4" fill="none" stroke="#ffbf00" stroke-width="1.65" stroke-linejoin="round" stroke-dasharray="4.5,3"/><path d="M47.5,389.3L57.8,389.3L69.0,389.4L80.8,389.5L92.8,389.6L104.5,389.6L115.4,389.7L125.3,389.7L133.6,389.6L140.0,389.5L144.0,389.3L144.4,389.3L144.7,389.2L145.0,389.2L145.3,389.2L145.5,389.2L145.7,389.1L145.9,389.1L146.1,389.0L146.3,388.9L146.5,388.8L146.7,388.7L146.9,388.5L147.1,388.3L147.3,388.1L147.5,387.9L147.6,387.7L147.8,387.4L147.9,387.1L148.1,386.8L148.2,386.5L148.4,385.7L148.6,384.8L148.8,383.8L148.9,382.7L149.0,381.5L149.1,380.2L149.2,379.0L149.2,377.7L149.3,376.4L149.4,375.2L149.5,373.9L149.6,372.5L149.7,371.2L149.7,369.8L149.8,368.4L149.9,367.0L150.0,365.6L150.0,364.2L150.1,362.8L150.2,361.3L150.3,359.6L150.4,357.9L150.5,356.1L150.7,354.2L150.8,352.4L150.9,350.6L151.0,348.8L151.2,347.1L151.3,345.5L151.4,343.9L151.5,342.8L151.6,341.7L151.7,340.7L151.8,339.7L151.8,338.7L151.9,337.7L152.0,336.8L152.1,335.8L152.2,334.9L152.3,334.0L152.4,333.2L152.5,332.4L152.5,331.7L152.6,330.9L152.7,330.2L152.8,329.5L152.8,328.8L152.9,328.0L153.0,327.3L153.1,326.6L153.2,325.9L153.3,325.2L153.4,324.5L153.4,323.8L153.5,323.1L153.6,322.5L153.7,321.8L153.8,321.2L153.9,320.6L154.0,320.0L154.1,319.6L154.1,319.2L154.2,318.7L154.3,318.3L154.4,317.9L154.4,317.5L154.5,317.2L154.6,316.9L154.7,316.8L154.8,316.7L154.9,316.7L155.0,316.8L155.1,317.0L155.2,317.2L155.3,317.5L155.4,317.7L155.5,318.1L155.6,318.4L155.7,318.7L155.8,319.0L156.0,319.6L156.1,320.2L156.2,320.9L156.4,321.6L156.5,322.4L156.6,323.2L156.8,324.0L156.9,324.8L157.1,325.7L157.2,326.6L157.4,327.9L157.6,329.3L157.8,330.8L158.0,332.3L158.3,333.9L158.5,335.5L158.7,337.1L159.0,338.6L159.2,340.2L159.5,341.6L159.8,342.8L160.0,344.1L160.3,345.3L160.5,346.5L160.8,347.7L161.1,348.9L161.4,350.0L161.7,351.1L162.0,352.2L162.4,353.2L162.7,354.0L163.0,354.7L163.3,355.5L163.6,356.2L164.0,356.8L164.3,357.5L164.7,358.2L165.0,358.8L165.4,359.5L165.8,360.1L166.2,360.7L166.6,361.4L167.0,362.0L167.5,362.6L167.9,363.2L168.4,363.8L168.9,364.4L169.3,364.9L169.8,365.5L170.3,366.0L170.7,366.4L171.2,366.9L171.6,367.3L172.0,367.7L172.4,368.1L172.9,368.5L173.4,368.9L173.8,369.2L174.4,369.5L174.9,369.8L175.6,370.1L176.3,370.4L177.1,370.6L177.9,370.8L178.7,371.0L179.6,371.1L180.4,371.3L181.3,371.4L182.1,371.6L182.9,371.7L183.7,371.8L184.5,372.0L185.3,372.1L186.1,372.1L187.0,372.2L187.8,372.3L188.6,372.4L189.4,372.6L190.1,372.7L190.9,372.9L191.6,373.1L192.4,373.4L193.1,373.7L193.9,374.0L194.6,374.3L195.3,374.6L196.0,374.9L196.6,375.2L197.2,375.5L197.7,375.7L198.0,375.8L198.2,376.0L198.4,376.1L198.6,376.2L198.8,376.3L199.0,376.4L199.2,376.5L199.4,376.7L199.7,376.8L200.0,376.9L200.7,377.2L201.5,377.4L202.5,377.7L203.5,378.0L204.5,378.3L205.6,378.6L206.8,378.9L207.9,379.2L209.0,379.5L210.0,379.7L211.0,379.9L212.0,380.2L213.0,380.4L213.9,380.6L214.9,380.8L215.9,381.0L216.9,381.2L217.9,381.3L219.0,381.4L220.0,381.4L221.2,381.4L222.4,381.3L223.7,381.2L225.0,381.0L226.3,380.8L227.5,380.6L228.8,380.4L229.9,380.2L231.0,379.9L232.0,379.7L232.6,379.5L233.1,379.3L233.7,379.1L234.1,378.9L234.6,378.7L235.1,378.4L235.5,378.3L236.0,378.1L236.5,378.0L237.0,378.0L237.6,378.1L238.2,378.2L238.7,378.4L239.3,378.7L239.9,379.0L240.5,379.3L241.1,379.6L241.7,379.9L242.4,380.1L243.0,380.2L243.7,380.3L244.4,380.3L245.1,380.3L245.8,380.3L246.6,380.3L247.3,380.2L248.0,380.1L248.7,379.9L249.4,379.7L250.0,379.5L250.6,379.2L251.1,378.9L251.7,378.5L252.2,378.0L252.7,377.6L253.2,377.1L253.7,376.6L254.2,376.0L254.6,375.5L255.0,375.0L255.4,374.5L255.7,373.9L256.0,373.4L256.3,372.8L256.6,372.2L256.9,371.6L257.2,371.1L257.4,370.5L257.7,370.0L258.0,369.5L258.2,369.1L258.5,368.7L258.7,368.3L258.9,367.9L259.2,367.5L259.4,367.1L259.6,366.8L259.9,366.6L260.1,366.5L260.3,366.4L260.5,366.4L260.7,366.5L260.8,366.7L261.0,366.9L261.2,367.1L261.3,367.4L261.5,367.7L261.7,367.9L261.8,368.2L262.0,368.5L262.2,368.9L262.5,369.3L262.7,369.7L262.9,370.1L263.1,370.6L263.3,371.1L263.6,371.6L263.8,372.0L264.0,372.5L264.3,373.0L264.6,373.6L264.9,374.2L265.3,374.8L265.6,375.5L266.0,376.1L266.4,376.7L266.7,377.4L267.1,378.0L267.5,378.5L267.9,379.0L268.2,379.4L268.5,379.7L268.9,380.0L269.2,380.3L269.5,380.6L269.8,380.9L270.2,381.2L270.6,381.5L271.0,381.7L271.4,382.0L272.0,382.4L272.6,382.7L273.3,383.0L274.1,383.4L274.8,383.7L275.6,384.0L276.3,384.3L277.1,384.6L277.9,384.8L278.6,385.0L279.3,385.2L280.0,385.3L280.7,385.4L281.4,385.5L282.1,385.6L282.8,385.6L283.6,385.6L284.3,385.7L285.0,385.7L285.7,385.7L286.4,385.7L287.2,385.7L287.9,385.7L288.6,385.7L289.4,385.7L290.1,385.6L290.8,385.5L291.6,385.5L292.2,385.3L292.9,385.2L293.5,385.1L294.0,384.9L294.6,384.7L295.1,384.5L295.7,384.3L296.2,384.0L296.7,383.8L297.1,383.5L297.6,383.3L298.0,383.0L298.3,382.8L298.6,382.6L298.9,382.3L299.1,382.1L299.3,381.9L299.6,381.6L299.8,381.3L300.0,381.1L300.3,380.8L300.5,380.5L300.8,380.1L301.1,379.8L301.4,379.4L301.7,379.0L302.0,378.6L302.3,378.2L302.6,377.7L302.8,377.3L303.1,376.7L303.3,376.2L303.6,375.3L303.8,374.4L303.9,373.3L304.1,372.2L304.1,371.1L304.2,369.9L304.3,368.7L304.3,367.4L304.4,366.2L304.5,365.0L304.6,363.6L304.7,362.1L304.8,360.7L304.9,359.2L305.0,357.6L305.1,356.1L305.2,354.6L305.3,353.0L305.3,351.5L305.4,350.0L305.5,348.5L305.5,347.0L305.6,345.5L305.6,344.0L305.7,342.6L305.7,341.1L305.8,339.6L305.8,338.1L305.9,336.5L305.9,335.0L306.0,333.3L306.0,331.7L306.1,330.0L306.1,328.3L306.2,326.5L306.2,324.8L306.2,323.1L306.3,321.4L306.3,319.7L306.4,318.0L306.4,316.4L306.5,314.7L306.5,313.1L306.6,311.4L306.6,309.8L306.7,308.2L306.7,306.6L306.8,305.0L306.8,303.5L306.9,302.0L306.9,300.8L307.0,299.6L307.0,298.4L307.1,297.3L307.1,296.2L307.2,295.1L307.2,294.0L307.3,293.0L307.3,292.0L307.4,291.0L307.5,290.3L307.5,289.5L307.6,288.7L307.6,287.9L307.7,287.1L307.8,286.4L307.8,285.9L307.9,285.4L307.9,285.1L308.0,285.0L308.0,285.1L308.1,285.3L308.1,285.5L308.2,285.9L308.2,286.4L308.3,286.9L308.3,287.4L308.3,287.9L308.4,288.5L308.4,289.0L308.4,289.9L308.5,290.8L308.5,291.9L308.5,293.0L308.5,294.1L308.5,295.3L308.5,296.5L308.5,297.7L308.5,298.8L308.5,300.0L308.5,301.2L308.5,302.5L308.5,303.8L308.5,305.0L308.5,306.3L308.5,307.6L308.5,308.9L308.5,310.3L308.5,311.6L308.5,313.0L308.5,314.6L308.5,316.3L308.5,318.0L308.5,319.7L308.5,321.4L308.5,323.2L308.5,324.9L308.5,326.6L308.6,328.3L308.6,330.0L308.6,331.5L308.7,333.1L308.7,334.6L308.8,336.1L308.8,337.6L308.9,339.1L309.0,340.6L309.1,342.1L309.1,343.5L309.2,345.0L309.3,346.4L309.4,347.9L309.4,349.3L309.5,350.7L309.6,352.2L309.7,353.6L309.8,355.0L309.9,356.3L310.0,357.6L310.1,358.9L310.2,359.9L310.3,360.9L310.4,361.8L310.5,362.7L310.6,363.6L310.7,364.5L310.8,365.4L311.0,366.2L311.1,367.1L311.2,368.0L311.3,368.8L311.4,369.7L311.5,370.6L311.7,371.4L311.8,372.3L311.9,373.1L312.0,373.9L312.2,374.7L312.3,375.5L312.5,376.2L312.6,376.7L312.8,377.2L312.9,377.7L313.1,378.2L313.3,378.6L313.4,379.1L313.6,379.5L313.8,380.0L314.0,380.4L314.2,380.8L314.4,381.2L314.6,381.6L314.8,381.9L315.0,382.3L315.2,382.6L315.5,383.0L315.7,383.3L316.0,383.7L316.3,384.0L316.6,384.3L317.0,384.7L317.5,385.1L318.1,385.5L318.6,385.9L319.2,386.3L319.8,386.6L320.5,387.0L321.1,387.3L321.8,387.5L322.4,387.8L323.1,388.0L323.8,388.2L324.5,388.4L325.2,388.5L325.9,388.6L326.6,388.7L327.4,388.8L328.2,388.9L329.1,388.9L330.0,389.0L331.5,389.1L333.1,389.2L334.9,389.2L336.7,389.2L338.7,389.2L340.6,389.2L342.6,389.2L344.5,389.2L346.4,389.2L348.3,389.2" fill="none" stroke="#ffbf00" stroke-width="1.65" stroke-linejoin="round"/><path d="M47.5,393.0L55.3,393.0L63.6,392.9L72.2,392.8L80.9,392.7L89.5,392.6L97.7,392.6L105.2,392.6L112.0,392.7L117.6,393.0L122.0,393.5L123.2,393.7L124.2,393.9L125.1,394.1L126.0,394.4L126.8,394.6L127.5,394.9L128.1,395.1L128.8,395.4L129.4,395.7L130.0,396.0L130.4,396.2L130.8,396.4L131.2,396.6L131.6,396.9L131.9,397.1L132.2,397.3L132.5,397.5L132.9,397.8L133.2,398.0L133.5,398.3L133.8,398.6L134.1,398.8L134.5,399.1L134.8,399.4L135.1,399.7L135.4,400.0L135.7,400.3L136.0,400.7L136.2,401.0L136.5,401.3L136.7,401.6L137.0,401.9L137.2,402.2L137.4,402.5L137.6,402.8L137.8,403.1L138.0,403.5L138.2,403.8L138.3,404.1L138.5,404.5L138.7,404.9L138.9,405.3L139.0,405.7L139.2,406.2L139.3,406.6L139.5,407.1L139.6,407.5L139.8,408.0L139.9,408.5L140.0,409.0L140.1,409.6L140.3,410.3L140.4,411.0L140.5,411.7L140.6,412.4L140.7,413.1L140.7,413.8L140.8,414.5L140.9,415.3L141.0,416.0L141.1,416.8L141.2,417.6L141.3,418.3L141.3,419.1L141.4,419.9L141.5,420.7L141.6,421.5L141.7,422.3L141.7,423.2L141.8,424.0L141.9,425.0L142.0,425.9L142.0,426.9L142.1,427.9L142.2,428.9L142.2,429.9L142.3,430.9L142.4,432.0L142.4,433.0L142.5,434.0L142.6,435.1L142.6,436.4L142.7,437.8L142.7,439.2L142.8,440.5L142.8,441.8L142.9,442.9L143.0,443.7L143.0,444.3L143.1,444.5L143.2,444.4L143.2,444.0L143.3,443.5L143.4,442.9L143.4,442.1L143.5,441.3L143.6,440.4L143.7,439.6L143.7,438.7L143.8,438.0L143.9,437.2L143.9,436.5L144.0,435.7L144.0,434.9L144.1,434.1L144.2,433.3L144.2,432.5L144.3,431.7L144.3,430.8L144.4,430.0L144.5,429.0L144.5,428.0L144.6,427.0L144.7,426.0L144.8,425.0L144.8,423.9L144.9,422.9L145.0,421.9L145.1,420.9L145.2,420.0L145.3,419.2L145.4,418.5L145.4,417.7L145.5,417.0L145.6,416.3L145.7,415.6L145.8,414.9L145.9,414.2L146.1,413.6L146.2,413.0L146.3,412.6L146.4,412.2L146.5,411.8L146.6,411.5L146.8,411.1L146.9,410.8L147.0,410.5L147.2,410.1L147.3,409.8L147.5,409.5L147.7,409.2L147.8,408.9L148.0,408.6L148.2,408.3L148.4,408.0L148.6,407.8L148.8,407.5L149.0,407.3L149.3,407.0L149.5,406.8L149.7,406.6L149.9,406.4L150.2,406.3L150.4,406.1L150.6,406.0L150.9,405.8L151.2,405.7L151.4,405.6L151.7,405.4L152.0,405.3L152.4,405.1L152.9,404.9L153.4,404.7L153.8,404.5L154.4,404.4L154.9,404.2L155.4,404.0L156.0,403.9L156.5,403.8L157.1,403.7L157.8,403.6L158.5,403.6L159.2,403.6L159.9,403.6L160.6,403.7L161.4,403.7L162.1,403.8L162.8,403.9L163.6,404.0L164.3,404.1L165.0,404.2L165.7,404.4L166.4,404.5L167.1,404.7L167.9,404.9L168.6,405.1L169.3,405.3L170.0,405.5L170.7,405.7L171.4,405.9L172.1,406.1L172.8,406.2L173.6,406.4L174.3,406.5L175.0,406.7L175.8,406.8L176.5,407.0L177.2,407.1L177.9,407.2L178.6,407.3L179.2,407.4L179.8,407.4L180.4,407.5L180.9,407.6L181.5,407.6L182.1,407.7L182.6,407.7L183.2,407.7L183.7,407.7L184.3,407.7L184.9,407.7L185.4,407.6L186.0,407.6L186.6,407.5L187.1,407.5L187.7,407.4L188.3,407.3L188.8,407.2L189.4,407.0L190.0,406.9L190.7,406.7L191.4,406.5L192.1,406.2L192.8,406.0L193.5,405.7L194.2,405.4L194.9,405.1L195.6,404.9L196.4,404.6L197.1,404.4L197.9,404.2L198.7,404.0L199.5,403.8L200.3,403.6L201.1,403.4L201.9,403.3L202.7,403.1L203.5,403.0L204.3,402.8L205.1,402.7L205.8,402.6L206.6,402.5L207.3,402.4L208.0,402.3L208.7,402.2L209.4,402.1L210.2,402.0L210.9,402.0L211.6,401.9L212.3,401.9L213.0,401.9L213.7,401.9L214.4,401.9L215.1,402.0L215.8,402.0L216.6,402.1L217.3,402.1L218.0,402.2L218.7,402.2L219.4,402.3L220.1,402.4L220.8,402.4L221.6,402.5L222.3,402.6L223.0,402.7L223.7,402.8L224.4,402.9L225.2,402.9L225.9,403.0L226.6,403.0L227.3,403.0L228.0,402.9L228.8,402.9L229.5,402.8L230.2,402.7L230.9,402.6L231.6,402.5L232.3,402.5L233.0,402.4L233.7,402.3L234.3,402.2L234.9,402.2L235.5,402.1L236.1,402.0L236.6,401.9L237.2,401.9L237.8,401.8L238.3,401.8L238.9,401.8L239.4,401.8L239.9,401.8L240.3,401.9L240.8,402.0L241.2,402.1L241.7,402.2L242.1,402.3L242.5,402.4L242.9,402.6L243.3,402.8L243.7,403.0L244.1,403.3L244.5,403.6L244.9,403.9L245.3,404.3L245.7,404.6L246.0,405.0L246.4,405.5L246.7,406.0L247.0,406.5L247.3,407.0L247.7,407.9L248.1,409.0L248.4,410.2L248.7,411.5L248.9,412.9L249.2,414.2L249.5,415.5L249.7,416.7L250.0,417.7L250.3,418.5L250.5,418.9L250.6,419.2L250.8,419.6L251.0,419.9L251.2,420.2L251.3,420.5L251.5,420.7L251.7,420.9L251.8,421.0L252.0,421.0L252.2,420.9L252.4,420.8L252.5,420.5L252.7,420.2L252.8,419.8L253.0,419.4L253.2,419.0L253.3,418.5L253.5,418.1L253.7,417.6L254.0,416.8L254.3,415.8L254.6,414.8L255.0,413.6L255.3,412.5L255.6,411.3L256.0,410.2L256.3,409.1L256.7,408.1L257.1,407.3L257.4,406.8L257.6,406.4L257.9,405.9L258.2,405.5L258.4,405.2L258.7,404.8L259.0,404.4L259.3,404.1L259.7,403.8L260.0,403.5L260.3,403.2L260.7,403.0L261.0,402.7L261.4,402.5L261.8,402.3L262.2,402.1L262.6,401.9L263.0,401.7L263.5,401.5L264.0,401.3L264.8,401.0L265.7,400.7L266.7,400.4L267.7,400.1L268.8,399.8L269.9,399.6L271.0,399.3L272.1,399.1L273.2,398.9L274.3,398.7L275.3,398.5L276.4,398.3L277.5,398.2L278.5,398.0L279.6,397.9L280.7,397.8L281.7,397.7L282.7,397.7L283.7,397.8L284.6,397.9L285.4,398.1L286.1,398.3L286.9,398.5L287.6,398.8L288.3,399.1L289.0,399.4L289.7,399.8L290.3,400.3L290.9,400.8L291.4,401.3L291.9,402.0L292.4,402.8L292.8,403.6L293.2,404.5L293.5,405.4L293.8,406.4L294.1,407.5L294.4,408.5L294.6,409.6L294.9,410.7L295.2,412.2L295.5,413.8L295.7,415.4L295.9,417.1L296.1,418.8L296.3,420.6L296.4,422.4L296.6,424.2L296.7,426.1L296.9,427.9L297.1,430.0L297.2,432.1L297.4,434.2L297.5,436.4L297.7,438.6L297.8,440.8L297.9,443.0L298.1,445.3L298.2,447.6L298.3,450.0L298.4,452.8L298.5,455.6L298.7,458.5L298.8,461.5L298.8,464.4L298.9,467.5L299.0,470.5L299.1,473.7L299.2,476.8L299.3,480.0L299.4,484.1L299.4,488.7L299.3,493.7L299.2,498.8L299.2,503.9L299.2,508.6L299.3,512.8L299.5,516.2L299.9,518.7L300.4,520.0L300.5,520.1L300.7,520.2L300.8,520.3L300.9,520.3L301.1,520.3L301.2,520.3L301.4,520.3L301.5,520.2L301.7,520.1L301.8,520.0L302.6,517.6L303.1,512.5L303.3,505.3L303.4,496.6L303.3,486.7L303.1,476.4L303.0,466.0L302.8,456.1L302.7,447.3L302.8,440.0L302.9,435.9L302.9,431.9L303.0,428.0L303.0,424.2L303.1,420.6L303.1,417.2L303.3,414.0L303.4,411.0L303.7,408.4L304.0,406.0L304.2,404.9L304.3,403.9L304.5,403.0L304.7,402.1L304.9,401.3L305.1,400.5L305.3,399.8L305.6,399.2L306.0,398.5L306.4,398.0L306.8,397.6L307.2,397.3L307.6,397.0L308.0,396.7L308.5,396.5L309.0,396.3L309.6,396.1L310.1,395.9L310.7,395.8L311.3,395.6L312.3,395.4L313.3,395.2L314.5,395.1L315.7,395.1L316.9,395.0L318.2,395.0L319.5,395.0L320.8,395.0L322.1,395.0L323.3,394.9" fill="none" stroke="#ffbf00" stroke-width="1.65" stroke-linejoin="round"/><path d="M47.5,390.0L56.2,390.0L65.5,390.0L75.2,390.0L85.1,390.0L94.7,390.0L103.8,390.0L112.2,390.0L119.6,390.0L125.6,390.0L130.0,390.0L130.9,390.0L131.7,390.0L132.4,390.0L133.0,390.0L133.6,390.0L134.1,390.0L134.6,390.0L135.0,390.0L135.5,389.9L136.0,389.9L136.3,389.9L136.7,389.8L137.0,389.8L137.3,389.8L137.6,389.7L137.9,389.7L138.2,389.6L138.5,389.5L138.7,389.4L139.0,389.3L139.2,389.2L139.5,389.1L139.7,388.9L139.9,388.8L140.1,388.6L140.3,388.5L140.5,388.3L140.6,388.1L140.8,387.8L141.0,387.6L141.3,387.2L141.5,386.6L141.7,386.1L141.9,385.5L142.1,384.8L142.3,384.1L142.5,383.4L142.6,382.7L142.8,382.1L143.0,381.4L143.2,380.7L143.4,380.0L143.6,379.3L143.8,378.5L144.0,377.8L144.2,377.1L144.4,376.3L144.6,375.5L144.8,374.8L145.0,374.0L145.2,373.1L145.4,372.3L145.6,371.4L145.7,370.5L145.9,369.6L146.1,368.7L146.2,367.8L146.4,366.8L146.5,365.8L146.7,364.8L146.9,363.4L147.1,362.0L147.3,360.6L147.5,359.1L147.6,357.6L147.8,356.0L148.0,354.4L148.2,352.8L148.3,351.3L148.5,349.7L148.7,348.0L148.9,346.2L149.0,344.3L149.2,342.4L149.4,340.5L149.5,338.7L149.7,336.9L149.9,335.2L150.0,333.7L150.2,332.4L150.3,331.7L150.4,331.1L150.5,330.5L150.5,329.9L150.6,329.4L150.7,328.8L150.8,328.3L150.9,327.9L151.0,327.4L151.1,327.0L151.2,326.7L151.2,326.4L151.3,326.1L151.4,325.8L151.5,325.6L151.6,325.3L151.6,325.1L151.7,324.9L151.8,324.8L151.9,324.8L152.0,324.8L152.1,324.9L152.2,325.1L152.3,325.3L152.4,325.6L152.5,325.8L152.5,326.1L152.6,326.4L152.7,326.7L152.8,327.0L152.9,327.4L153.0,327.9L153.1,328.4L153.2,328.9L153.3,329.4L153.4,330.0L153.4,330.6L153.5,331.2L153.6,331.8L153.7,332.4L153.8,333.4L154.0,334.4L154.2,335.6L154.3,336.8L154.5,338.0L154.7,339.2L154.9,340.4L155.0,341.6L155.2,342.8L155.4,343.9L155.6,344.9L155.7,345.8L155.9,346.8L156.1,347.7L156.2,348.7L156.4,349.6L156.6,350.5L156.8,351.4L157.0,352.3L157.2,353.2L157.4,354.0L157.6,354.9L157.8,355.7L158.0,356.5L158.3,357.3L158.5,358.1L158.7,358.9L159.0,359.7L159.2,360.5L159.5,361.3L159.8,362.0L160.0,362.8L160.3,363.5L160.6,364.2L160.8,364.9L161.1,365.6L161.4,366.3L161.7,366.9L162.1,367.6L162.4,368.2L162.7,368.7L163.0,369.3L163.3,369.8L163.6,370.3L164.0,370.8L164.3,371.3L164.6,371.7L165.0,372.2L165.4,372.6L165.8,372.9L166.2,373.2L166.5,373.4L166.9,373.6L167.3,373.8L167.7,374.0L168.2,374.1L168.6,374.2L169.1,374.4L169.5,374.5L170.0,374.6L170.6,374.7L171.3,374.8L172.0,374.9L172.6,375.0L173.4,375.0L174.1,375.0L174.8,375.1L175.6,375.1L176.3,375.1L177.1,375.1L178.0,375.1L178.9,375.1L179.8,375.1L180.8,375.0L181.7,375.0L182.7,374.9L183.6,374.9L184.5,374.9L185.4,374.9L186.3,374.9L187.0,374.9L187.7,375.0L188.4,375.0L189.1,375.1L189.8,375.2L190.4,375.3L191.1,375.4L191.8,375.5L192.4,375.6L193.1,375.7L193.8,375.8L194.5,376.0L195.1,376.1L195.8,376.3L196.5,376.5L197.1,376.7L197.8,376.8L198.5,377.0L199.3,377.2L200.0,377.4L200.9,377.6L201.9,377.9L202.9,378.1L203.9,378.3L204.9,378.6L205.9,378.8L206.9,379.0L208.0,379.3L209.0,379.5L210.0,379.7L211.0,379.9L212.0,380.1L213.0,380.3L213.9,380.5L214.9,380.7L215.9,380.9L216.9,381.0L217.9,381.2L219.0,381.3L220.0,381.4L221.2,381.5L222.4,381.5L223.7,381.6L225.0,381.6L226.3,381.6L227.5,381.6L228.7,381.6L229.9,381.5L231.0,381.5L232.0,381.4L232.6,381.3L233.1,381.3L233.6,381.2L234.1,381.1L234.6,381.0L235.1,380.9L235.5,380.8L236.0,380.7L236.5,380.6L237.0,380.6L237.6,380.6L238.2,380.7L238.7,380.7L239.3,380.8L239.9,380.9L240.5,381.0L241.2,381.1L241.8,381.2L242.4,381.2L243.0,381.2L243.7,381.1L244.4,381.0L245.1,380.9L245.9,380.8L246.6,380.6L247.3,380.4L248.0,380.2L248.7,379.9L249.4,379.6L250.0,379.3L250.6,379.0L251.1,378.6L251.7,378.2L252.2,377.8L252.7,377.3L253.2,376.9L253.7,376.4L254.1,375.9L254.6,375.5L255.0,375.0L255.4,374.6L255.7,374.1L256.0,373.7L256.3,373.2L256.6,372.7L256.9,372.3L257.1,371.8L257.4,371.4L257.7,370.9L258.0,370.5L258.3,370.1L258.5,369.7L258.8,369.2L259.1,368.8L259.4,368.3L259.7,367.9L259.9,367.6L260.2,367.3L260.5,367.2L260.7,367.1L260.9,367.1L261.1,367.3L261.3,367.4L261.5,367.7L261.6,367.9L261.8,368.2L262.0,368.6L262.2,368.9L262.3,369.2L262.5,369.5L262.7,369.9L262.9,370.3L263.0,370.7L263.2,371.2L263.4,371.6L263.5,372.1L263.7,372.6L263.9,373.0L264.1,373.5L264.3,374.0L264.6,374.6L264.9,375.2L265.2,375.8L265.6,376.5L265.9,377.1L266.3,377.8L266.7,378.4L267.1,379.0L267.5,379.5L267.9,380.0L268.2,380.4L268.5,380.7L268.9,381.0L269.2,381.3L269.5,381.5L269.9,381.8L270.2,382.0L270.6,382.3L271.0,382.5L271.4,382.8L272.0,383.1L272.6,383.5L273.3,383.8L274.1,384.2L274.8,384.5L275.6,384.8L276.3,385.1L277.1,385.4L277.9,385.6L278.6,385.8L279.3,386.0L280.0,386.1L280.7,386.2L281.4,386.3L282.1,386.3L282.8,386.4L283.6,386.4L284.3,386.4L285.0,386.4L285.7,386.4L286.4,386.4L287.2,386.4L287.9,386.3L288.6,386.3L289.4,386.2L290.1,386.1L290.8,386.0L291.5,385.9L292.2,385.8L292.9,385.6L293.5,385.4L294.1,385.2L294.7,384.9L295.3,384.7L295.9,384.4L296.5,384.1L297.1,383.8L297.6,383.5L298.1,383.2L298.6,382.9L299.0,382.7L299.3,382.5L299.6,382.3L299.9,382.2L300.3,382.0L300.5,381.8L300.8,381.6L301.1,381.4L301.4,381.2L301.6,380.9L301.8,380.6L302.0,380.3L302.2,380.0L302.4,379.6L302.6,379.3L302.7,378.9L302.9,378.6L303.0,378.2L303.2,377.9L303.3,377.5L303.4,377.2L303.6,376.8L303.7,376.5L303.8,376.1L304.0,375.8L304.1,375.4L304.2,375.1L304.3,374.7L304.4,374.3L304.5,373.9L304.6,373.3L304.8,372.7L304.9,372.0L305.0,371.3L305.1,370.6L305.2,369.9L305.2,369.2L305.3,368.5L305.4,367.7L305.5,367.0L305.6,366.2L305.7,365.4L305.7,364.6L305.8,363.8L305.9,363.0L305.9,362.2L306.0,361.4L306.1,360.6L306.1,359.7L306.2,358.9L306.3,358.0L306.4,357.1L306.4,356.1L306.5,355.2L306.6,354.2L306.7,353.3L306.7,352.4L306.8,351.5L306.9,350.7L307.0,350.0L307.1,349.5L307.1,349.0L307.2,348.5L307.2,348.0L307.3,347.5L307.4,347.1L307.4,346.7L307.5,346.4L307.5,346.3L307.6,346.2L307.7,346.3L307.7,346.4L307.8,346.7L307.9,347.1L308.0,347.5L308.0,348.0L308.1,348.5L308.2,349.0L308.2,349.5L308.3,350.0L308.4,350.7L308.5,351.5L308.6,352.4L308.6,353.3L308.7,354.2L308.8,355.2L308.9,356.1L308.9,357.1L309.0,358.0L309.1,358.9L309.2,359.7L309.3,360.6L309.4,361.4L309.5,362.2L309.5,363.0L309.6,363.8L309.7,364.6L309.8,365.4L309.9,366.2L310.0,367.0L310.1,367.7L310.2,368.4L310.2,369.1L310.3,369.8L310.4,370.5L310.4,371.2L310.5,371.9L310.6,372.6L310.7,373.2L310.8,373.9L310.9,374.5L311.0,375.2L311.1,375.8L311.2,376.4L311.4,377.0L311.5,377.7L311.6,378.3L311.7,378.9L311.9,379.4L312.0,380.0L312.1,380.5L312.2,380.9L312.3,381.4L312.4,381.8L312.5,382.3L312.6,382.7L312.7,383.1L312.8,383.5L312.9,383.9L313.1,384.3L313.2,384.6L313.4,384.9L313.5,385.1L313.7,385.4L313.9,385.7L314.1,385.9L314.2,386.1L314.4,386.4L314.6,386.6L314.8,386.8L315.0,387.0L315.1,387.2L315.3,387.3L315.4,387.5L315.6,387.7L315.8,387.8L315.9,388.0L316.1,388.1L316.4,388.3L316.6,388.4L317.0,388.6L317.5,388.7L318.0,388.9L318.6,389.0L319.2,389.1L319.8,389.2L320.5,389.3L321.1,389.4L321.8,389.4L322.4,389.5L323.1,389.6L323.8,389.6L324.5,389.6L325.2,389.6L325.9,389.6L326.7,389.6L327.4,389.6L328.3,389.6L329.1,389.6L330.0,389.6L331.5,389.6L333.2,389.6L334.9,389.7L336.8,389.7L338.7,389.7L340.6,389.8L342.6,389.8L344.5,389.8L346.4,389.9L348.3,389.9" fill="none" stroke="#1a1aff" stroke-width="1.65" stroke-linejoin="round"/><path d="M47.5,392.3L55.0,392.3L63.1,392.3L71.3,392.2L79.7,392.1L87.9,392.1L95.8,392.0L103.1,392.1L109.8,392.1L115.4,392.3L120.0,392.6L121.4,392.7L122.7,392.9L123.8,393.0L124.9,393.1L125.9,393.3L126.8,393.4L127.6,393.6L128.5,393.8L129.2,394.0L130.0,394.3L130.5,394.5L130.9,394.7L131.4,394.9L131.8,395.1L132.1,395.3L132.5,395.5L132.9,395.8L133.2,396.0L133.6,396.3L134.0,396.5L134.4,396.8L134.9,397.0L135.3,397.3L135.8,397.6L136.2,397.9L136.6,398.2L137.1,398.5L137.5,398.9L137.8,399.2L138.2,399.5L138.5,399.8L138.7,400.1L139.0,400.4L139.2,400.7L139.4,401.0L139.7,401.3L139.9,401.6L140.1,401.9L140.3,402.2L140.5,402.5L140.7,402.8L140.9,403.1L141.1,403.3L141.2,403.6L141.4,403.9L141.6,404.2L141.8,404.5L141.9,404.7L142.1,405.0L142.3,405.2L142.5,405.4L142.6,405.6L142.8,405.8L142.9,406.0L143.1,406.2L143.3,406.4L143.4,406.6L143.6,406.7L143.7,406.8L143.9,406.8L144.0,406.8L144.2,406.7L144.3,406.6L144.4,406.5L144.6,406.3L144.7,406.2L144.8,406.0L145.0,405.8L145.1,405.7L145.2,405.5L145.3,405.3L145.4,405.1L145.6,404.9L145.7,404.7L145.8,404.5L145.9,404.3L146.0,404.1L146.1,403.9L146.3,403.7L146.4,403.5L146.6,403.3L146.8,403.1L147.0,402.9L147.2,402.6L147.4,402.4L147.6,402.2L147.8,402.0L148.0,401.8L148.3,401.7L148.5,401.5L148.7,401.4L149.0,401.2L149.3,401.1L149.5,401.0L149.8,400.9L150.1,400.8L150.4,400.7L150.7,400.6L151.0,400.6L151.3,400.5L151.8,400.5L152.3,400.4L152.9,400.5L153.4,400.5L154.0,400.6L154.6,400.6L155.2,400.7L155.9,400.8L156.5,400.8L157.1,400.9L157.8,401.0L158.5,401.0L159.2,401.0L159.9,401.1L160.7,401.1L161.4,401.2L162.1,401.3L162.9,401.4L163.6,401.5L164.3,401.6L165.0,401.8L165.7,401.9L166.4,402.1L167.1,402.4L167.9,402.6L168.6,402.8L169.3,403.1L170.0,403.3L170.7,403.5L171.4,403.7L172.1,403.9L172.8,404.0L173.6,404.2L174.3,404.3L175.0,404.5L175.8,404.6L176.5,404.7L177.2,404.8L177.9,405.0L178.6,405.1L179.2,405.2L179.8,405.3L180.4,405.5L180.9,405.6L181.5,405.7L182.1,405.9L182.6,406.0L183.2,406.0L183.7,406.1L184.3,406.1L184.9,406.1L185.4,406.0L186.0,406.0L186.6,405.9L187.1,405.8L187.7,405.7L188.3,405.6L188.8,405.4L189.4,405.3L190.0,405.1L190.7,404.9L191.4,404.6L192.1,404.3L192.8,404.0L193.5,403.7L194.2,403.3L194.9,403.0L195.6,402.7L196.4,402.5L197.1,402.3L197.9,402.2L198.7,402.1L199.5,402.0L200.3,402.0L201.1,402.0L201.9,402.0L202.7,402.0L203.5,402.0L204.3,401.9L205.1,401.9L205.8,401.8L206.6,401.8L207.3,401.7L208.0,401.6L208.7,401.5L209.4,401.5L210.2,401.4L210.9,401.3L211.6,401.3L212.3,401.3L213.0,401.3L213.7,401.4L214.4,401.4L215.1,401.5L215.8,401.6L216.6,401.6L217.3,401.7L218.0,401.8L218.7,401.9L219.4,401.9L220.1,401.9L220.8,401.9L221.6,402.0L222.3,402.0L223.0,402.0L223.7,402.0L224.4,402.0L225.2,401.9L225.9,401.9L226.6,401.9L227.3,401.9L228.0,401.8L228.8,401.7L229.5,401.6L230.2,401.6L230.9,401.5L231.6,401.4L232.3,401.3L233.0,401.3L233.7,401.3L234.3,401.3L234.9,401.3L235.5,401.4L236.1,401.4L236.6,401.5L237.2,401.5L237.8,401.6L238.3,401.7L238.9,401.8L239.4,401.9L239.9,402.0L240.3,402.1L240.8,402.2L241.2,402.3L241.6,402.4L242.1,402.6L242.5,402.7L242.9,402.9L243.3,403.1L243.7,403.3L244.1,403.5L244.5,403.8L244.9,404.1L245.3,404.4L245.7,404.7L246.0,405.1L246.4,405.4L246.7,405.8L247.0,406.1L247.3,406.5L247.5,406.8L247.7,407.2L247.9,407.5L248.1,407.8L248.3,408.2L248.4,408.5L248.6,408.9L248.7,409.3L248.9,409.6L249.0,410.0L249.2,410.4L249.3,410.8L249.4,411.3L249.6,411.7L249.7,412.1L249.8,412.6L249.9,413.0L250.1,413.4L250.2,413.8L250.3,414.1L250.4,414.3L250.5,414.6L250.5,414.8L250.6,415.0L250.7,415.3L250.8,415.5L250.8,415.6L250.9,415.8L251.0,415.9L251.1,415.9L251.2,415.9L251.3,415.8L251.4,415.7L251.5,415.6L251.6,415.4L251.8,415.3L251.9,415.1L252.0,414.9L252.1,414.7L252.2,414.5L252.4,414.2L252.5,413.9L252.6,413.5L252.8,413.2L252.9,412.8L253.0,412.4L253.2,412.0L253.3,411.5L253.5,411.1L253.7,410.7L254.0,410.1L254.2,409.6L254.5,408.9L254.9,408.3L255.2,407.7L255.5,407.0L255.9,406.4L256.3,405.8L256.7,405.2L257.1,404.7L257.5,404.2L258.0,403.7L258.5,403.2L258.9,402.8L259.5,402.3L260.0,401.9L260.5,401.5L261.1,401.1L261.7,400.7L262.3,400.4L263.0,400.0L263.8,399.7L264.7,399.4L265.5,399.1L266.4,398.9L267.3,398.7L268.2,398.4L269.1,398.3L270.0,398.1L270.9,397.9L271.8,397.7L272.6,397.6L273.5,397.5L274.3,397.3L275.2,397.2L276.1,397.1L276.9,397.1L277.8,397.0L278.6,397.0L279.4,397.0L280.1,397.0L280.8,397.0L281.6,397.1L282.3,397.1L283.0,397.2L283.7,397.3L284.3,397.4L285.0,397.6L285.7,397.7L286.3,397.9L286.9,398.1L287.4,398.2L288.0,398.4L288.5,398.6L289.1,398.8L289.6,399.1L290.1,399.4L290.6,399.7L291.0,400.0L291.4,400.4L291.8,400.9L292.2,401.5L292.5,402.1L292.7,402.7L293.0,403.4L293.2,404.2L293.4,404.9L293.6,405.7L293.8,406.5L294.0,407.3L294.2,408.4L294.5,409.5L294.7,410.7L294.8,411.9L295.0,413.1L295.2,414.4L295.3,415.7L295.4,416.9L295.6,418.1L295.7,419.3L295.8,420.4L295.9,421.4L296.0,422.4L296.1,423.4L296.2,424.4L296.3,425.4L296.4,426.4L296.4,427.4L296.5,428.5L296.6,429.6L296.7,431.0L296.8,432.5L296.9,434.0L297.0,435.5L297.1,437.1L297.2,438.7L297.3,440.3L297.4,441.9L297.5,443.4L297.6,445.0L297.7,446.7L297.8,448.6L298.0,450.6L298.1,452.7L298.2,454.7L298.3,456.5L298.4,458.1L298.6,459.4L298.7,460.2L298.8,460.5L298.9,460.1L299.1,459.1L299.2,457.4L299.3,455.4L299.4,453.0L299.5,450.3L299.6,447.6L299.8,444.9L299.9,442.3L300.0,440.0L300.1,437.4L300.2,434.6L300.3,431.7L300.4,428.7L300.4,425.8L300.5,422.9L300.7,420.2L300.8,417.8L301.0,415.7L301.3,414.0L301.4,413.4L301.5,412.9L301.6,412.4L301.7,412.0L301.8,411.6L301.9,411.2L302.1,410.9L302.3,410.5L302.5,410.3L302.8,410.0L303.3,409.7L303.9,409.5L304.5,409.4L305.3,409.4L306.0,409.3L306.8,409.3L307.7,409.3L308.5,409.4L309.3,409.3L310.0,409.3" fill="none" stroke="#1a1aff" stroke-width="1.65" stroke-linejoin="round"/><path d="M47.5,390.2L58.1,390.2L69.8,390.3L82.1,390.4L94.5,390.4L106.6,390.5L118.0,390.6L128.1,390.6L136.7,390.5L143.1,390.4L147.0,390.2L147.3,390.2L147.6,390.1L147.8,390.1L148.1,390.1L148.2,390.1L148.4,390.0L148.6,390.0L148.7,389.9L148.8,389.9L149.0,389.8L149.1,389.7L149.3,389.6L149.4,389.5L149.6,389.4L149.7,389.3L149.8,389.2L149.9,389.0L150.0,388.9L150.1,388.7L150.2,388.5L150.4,387.8L150.5,387.0L150.6,385.9L150.7,384.8L150.7,383.6L150.7,382.3L150.7,381.0L150.7,379.7L150.8,378.6L150.8,377.5L150.8,376.7L150.9,375.9L150.9,375.2L151.0,374.4L151.0,373.7L151.1,373.0L151.1,372.2L151.2,371.5L151.2,370.8L151.3,370.0L151.4,369.2L151.4,368.3L151.5,367.4L151.5,366.6L151.6,365.7L151.7,364.8L151.7,364.0L151.8,363.1L151.8,362.2L151.9,361.3L152.0,360.4L152.0,359.4L152.1,358.5L152.1,357.6L152.2,356.6L152.3,355.7L152.3,354.8L152.4,353.8L152.4,352.9L152.5,352.0L152.6,351.2L152.6,350.4L152.7,349.6L152.7,348.8L152.8,348.0L152.8,347.2L152.9,346.4L153.0,345.6L153.0,344.7L153.1,343.9L153.2,342.9L153.3,342.0L153.4,341.0L153.4,339.9L153.5,338.9L153.6,337.9L153.7,336.9L153.8,335.9L153.9,334.9L154.0,334.0L154.1,333.2L154.2,332.4L154.2,331.7L154.3,331.0L154.4,330.2L154.5,329.5L154.6,328.8L154.6,328.1L154.7,327.3L154.8,326.6L154.9,325.9L155.0,325.1L155.0,324.3L155.1,323.5L155.2,322.8L155.3,322.0L155.4,321.3L155.5,320.7L155.6,320.0L155.7,319.5L155.8,319.2L155.9,318.9L155.9,318.6L156.0,318.3L156.1,318.0L156.2,317.8L156.3,317.6L156.4,317.4L156.5,317.3L156.6,317.3L156.7,317.3L156.8,317.4L156.9,317.6L157.0,317.8L157.1,318.0L157.2,318.3L157.3,318.6L157.4,318.9L157.5,319.2L157.6,319.5L157.8,320.0L157.9,320.6L158.0,321.2L158.1,321.9L158.3,322.6L158.4,323.4L158.5,324.1L158.6,324.9L158.8,325.8L158.9,326.6L159.1,327.9L159.3,329.3L159.5,330.8L159.7,332.3L159.9,333.9L160.2,335.5L160.4,337.1L160.7,338.7L160.9,340.2L161.2,341.6L161.5,342.8L161.7,343.9L162.0,345.1L162.3,346.2L162.6,347.3L162.8,348.4L163.2,349.5L163.5,350.5L163.8,351.5L164.1,352.5L164.4,353.3L164.6,354.0L164.9,354.8L165.2,355.5L165.5,356.2L165.8,356.9L166.1,357.5L166.4,358.2L166.7,358.9L167.0,359.5L167.3,360.1L167.6,360.7L167.9,361.3L168.2,361.9L168.5,362.4L168.8,363.0L169.2,363.5L169.5,364.0L169.9,364.5L170.3,365.0L170.7,365.4L171.1,365.8L171.5,366.2L172.0,366.6L172.4,367.0L172.9,367.3L173.4,367.7L173.9,368.0L174.4,368.3L174.9,368.5L175.4,368.7L176.0,368.9L176.5,369.0L177.1,369.2L177.7,369.3L178.3,369.4L178.9,369.4L179.4,369.5L180.0,369.6L180.6,369.7L181.2,369.8L181.7,369.9L182.3,370.0L182.9,370.0L183.5,370.1L184.0,370.2L184.6,370.3L185.2,370.4L185.7,370.5L186.3,370.6L186.9,370.7L187.4,370.9L188.0,371.0L188.6,371.2L189.2,371.4L189.7,371.5L190.3,371.7L190.9,371.9L191.4,372.1L192.0,372.3L192.6,372.5L193.2,372.7L193.8,373.0L194.4,373.2L195.0,373.5L195.6,373.7L196.2,373.9L196.7,374.2L197.2,374.4L197.7,374.6L198.0,374.7L198.2,374.8L198.4,374.9L198.6,375.0L198.8,375.1L199.0,375.3L199.2,375.4L199.4,375.5L199.7,375.6L200.0,375.7L200.7,376.0L201.5,376.3L202.5,376.6L203.5,376.9L204.6,377.2L205.7,377.5L206.8,377.9L207.9,378.2L209.0,378.6L210.0,378.9L211.0,379.3L212.1,379.6L213.1,380.0L214.2,380.4L215.2,380.8L216.2,381.2L217.2,381.6L218.2,381.9L219.1,382.1L220.0,382.3L220.6,382.4L221.1,382.4L221.6,382.5L222.1,382.5L222.5,382.5L223.0,382.4L223.5,382.4L224.0,382.4L224.5,382.3L225.0,382.3L225.7,382.3L226.3,382.2L227.1,382.1L227.8,382.0L228.5,381.9L229.2,381.8L230.0,381.7L230.7,381.6L231.3,381.5L232.0,381.4L232.5,381.3L233.0,381.2L233.5,381.0L234.0,380.9L234.5,380.8L235.0,380.6L235.5,380.5L236.0,380.4L236.5,380.3L237.0,380.2L237.6,380.1L238.2,380.1L238.7,380.0L239.3,380.0L239.9,380.0L240.5,379.9L241.2,379.9L241.8,379.9L242.4,379.8L243.0,379.7L243.7,379.6L244.4,379.5L245.1,379.3L245.9,379.2L246.6,379.0L247.3,378.9L248.0,378.7L248.7,378.4L249.4,378.2L250.0,377.9L250.6,377.6L251.1,377.3L251.7,376.9L252.2,376.5L252.7,376.1L253.2,375.7L253.7,375.3L254.1,374.8L254.6,374.4L255.0,374.0L255.3,373.7L255.7,373.3L256.0,372.9L256.3,372.5L256.5,372.2L256.8,371.8L257.1,371.4L257.4,371.1L257.7,370.8L258.0,370.5L258.3,370.2L258.6,370.0L258.9,369.7L259.3,369.4L259.6,369.2L259.9,369.0L260.2,368.8L260.5,368.7L260.8,368.6L261.1,368.6L261.3,368.7L261.5,368.8L261.7,368.9L261.9,369.1L262.0,369.3L262.2,369.5L262.3,369.8L262.5,370.0L262.6,370.3L262.8,370.5L263.0,370.8L263.1,371.0L263.3,371.3L263.4,371.6L263.5,371.9L263.7,372.1L263.8,372.4L264.0,372.8L264.1,373.1L264.3,373.4L264.6,373.9L264.9,374.4L265.2,375.0L265.6,375.5L266.0,376.1L266.3,376.7L266.7,377.3L267.1,377.8L267.5,378.3L267.9,378.8L268.2,379.2L268.5,379.5L268.9,379.8L269.2,380.1L269.5,380.4L269.9,380.7L270.2,381.0L270.6,381.3L271.0,381.5L271.4,381.8L272.0,382.1L272.6,382.5L273.3,382.8L274.1,383.1L274.8,383.5L275.6,383.8L276.3,384.0L277.1,384.3L277.9,384.5L278.6,384.7L279.3,384.9L280.0,385.0L280.8,385.1L281.5,385.2L282.2,385.2L283.0,385.3L283.7,385.3L284.4,385.3L285.1,385.4L285.7,385.4L286.2,385.4L286.6,385.5L287.0,385.5L287.5,385.5L287.9,385.5L288.3,385.5L288.7,385.5L289.1,385.5L289.5,385.5L290.0,385.5L290.6,385.5L291.1,385.4L291.7,385.3L292.3,385.2L293.0,385.2L293.6,385.1L294.2,384.9L294.8,384.8L295.4,384.7L296.0,384.6L296.6,384.5L297.2,384.4L297.8,384.3L298.3,384.2L298.9,384.0L299.5,383.9L300.1,383.7L300.6,383.6L301.1,383.4L301.6,383.2L302.0,383.0L302.4,382.8L302.7,382.6L303.1,382.3L303.4,382.1L303.8,381.8L304.1,381.6L304.4,381.3L304.7,381.1L305.0,380.8L305.3,380.6L305.5,380.4L305.8,380.2L306.0,380.0L306.3,379.8L306.5,379.6L306.7,379.4L306.9,379.1L307.1,378.9L307.3,378.6L307.5,378.3L307.7,377.9L307.8,377.5L307.9,377.1L308.1,376.7L308.2,376.3L308.3,375.9L308.4,375.4L308.5,375.0L308.6,374.5L308.7,373.9L308.9,373.3L309.0,372.7L309.1,372.1L309.2,371.5L309.3,370.8L309.4,370.2L309.5,369.5L309.6,368.9L309.7,368.2L309.8,367.5L309.9,366.8L309.9,366.1L310.0,365.4L310.0,364.7L310.1,363.9L310.1,363.2L310.2,362.5L310.2,361.7L310.3,361.0L310.4,360.2L310.4,359.5L310.5,358.7L310.5,357.9L310.5,357.1L310.6,356.3L310.6,355.5L310.7,354.7L310.7,353.9L310.8,353.1L310.9,352.2L310.9,351.3L311.0,350.3L311.1,349.4L311.2,348.4L311.2,347.5L311.3,346.5L311.4,345.6L311.5,344.8L311.6,344.0L311.7,343.4L311.8,342.8L311.9,342.1L311.9,341.5L312.0,340.9L312.1,340.4L312.2,339.9L312.3,339.5L312.4,339.3L312.5,339.2L312.6,339.3L312.7,339.5L312.8,339.9L312.9,340.4L313.0,340.9L313.1,341.5L313.1,342.1L313.2,342.8L313.3,343.4L313.4,344.0L313.5,344.8L313.6,345.6L313.7,346.5L313.8,347.5L313.9,348.4L314.0,349.4L314.0,350.3L314.1,351.3L314.2,352.2L314.3,353.1L314.4,353.9L314.5,354.7L314.6,355.5L314.7,356.3L314.8,357.1L314.8,357.9L314.9,358.7L315.0,359.5L315.1,360.2L315.2,361.0L315.3,361.7L315.4,362.5L315.4,363.2L315.5,363.9L315.6,364.7L315.6,365.4L315.7,366.1L315.8,366.8L315.9,367.5L316.0,368.2L316.1,368.8L316.2,369.4L316.3,370.0L316.5,370.6L316.6,371.2L316.7,371.8L316.9,372.3L317.0,372.9L317.1,373.5L317.3,374.0L317.4,374.5L317.6,375.0L317.7,375.5L317.9,375.9L318.0,376.4L318.2,376.9L318.3,377.3L318.5,377.8L318.7,378.2L318.9,378.6L319.1,379.0L319.3,379.4L319.6,379.7L319.8,380.1L320.1,380.4L320.4,380.8L320.6,381.1L320.9,381.4L321.2,381.7L321.5,382.0L321.8,382.3L322.1,382.5L322.4,382.8L322.7,383.0L323.0,383.2L323.3,383.5L323.6,383.7L324.0,383.9L324.3,384.1L324.7,384.3L325.2,384.6L325.6,384.8L326.1,385.1L326.6,385.3L327.2,385.6L327.7,385.8L328.3,386.0L328.8,386.2L329.4,386.4L330.0,386.6L330.7,386.8L331.5,387.0L332.2,387.1L333.0,387.2L333.8,387.3L334.6,387.4L335.5,387.5L336.3,387.6L337.1,387.7L338.0,387.8L339.0,387.9L340.0,388.0L341.0,388.1L342.0,388.1L343.1,388.2L344.1,388.3L345.2,388.3L346.2,388.4L347.3,388.4L348.3,388.5" fill="none" stroke="#951c1c" stroke-width="1.65" stroke-linejoin="round"/><path d="M47.5,392.5L55.3,392.5L63.6,392.4L72.2,392.3L80.9,392.2L89.5,392.1L97.7,392.1L105.2,392.1L112.0,392.3L117.6,392.5L122.0,393.0L123.2,393.2L124.2,393.4L125.1,393.6L126.0,393.8L126.8,394.1L127.5,394.3L128.1,394.6L128.8,394.9L129.4,395.1L130.0,395.4L130.4,395.6L130.8,395.8L131.2,396.0L131.5,396.2L131.9,396.4L132.2,396.6L132.5,396.8L132.9,397.0L133.2,397.3L133.5,397.5L133.8,397.8L134.1,398.0L134.5,398.3L134.8,398.6L135.1,398.8L135.4,399.1L135.7,399.4L136.0,399.7L136.2,400.0L136.5,400.3L136.7,400.6L136.9,400.8L137.1,401.1L137.3,401.3L137.5,401.6L137.7,401.8L137.8,402.1L138.0,402.4L138.1,402.7L138.3,403.0L138.5,403.4L138.7,403.8L138.8,404.2L139.0,404.7L139.1,405.2L139.3,405.6L139.4,406.1L139.6,406.6L139.7,407.1L139.8,407.6L139.9,408.2L140.1,408.8L140.2,409.4L140.3,410.1L140.4,410.7L140.5,411.4L140.5,412.0L140.6,412.7L140.7,413.3L140.8,414.0L140.9,414.7L141.0,415.3L141.0,416.0L141.1,416.6L141.2,417.3L141.2,418.0L141.3,418.6L141.4,419.3L141.4,420.0L141.5,420.7L141.6,421.5L141.7,422.3L141.7,423.2L141.8,424.0L141.9,424.9L142.0,425.8L142.1,426.6L142.2,427.4L142.2,428.2L142.3,429.0L142.4,429.6L142.4,430.2L142.5,430.7L142.5,431.3L142.5,431.8L142.6,432.3L142.6,432.8L142.7,433.4L142.7,433.9L142.8,434.5L142.9,435.2L142.9,436.0L143.0,436.9L143.1,437.8L143.2,438.6L143.3,439.5L143.4,440.2L143.4,440.7L143.5,441.1L143.6,441.2L143.7,441.1L143.7,440.8L143.8,440.4L143.9,439.9L144.0,439.2L144.0,438.6L144.1,437.9L144.2,437.2L144.2,436.6L144.3,436.0L144.4,435.5L144.4,435.0L144.4,434.6L144.5,434.1L144.5,433.6L144.5,433.2L144.6,432.7L144.6,432.2L144.7,431.6L144.7,431.0L144.8,429.9L144.8,428.6L144.9,427.2L145.0,425.8L145.1,424.3L145.1,422.8L145.2,421.3L145.3,419.9L145.4,418.6L145.5,417.5L145.6,416.8L145.6,416.2L145.7,415.6L145.8,415.1L145.9,414.5L145.9,414.0L146.0,413.5L146.1,413.0L146.2,412.5L146.3,412.0L146.4,411.6L146.5,411.2L146.5,410.9L146.6,410.5L146.7,410.2L146.8,409.8L146.9,409.5L147.0,409.2L147.1,408.8L147.2,408.5L147.3,408.2L147.5,407.8L147.6,407.5L147.8,407.2L148.0,406.9L148.2,406.6L148.4,406.3L148.6,406.0L148.8,405.7L149.0,405.5L149.2,405.3L149.4,405.1L149.6,405.0L149.8,404.8L150.0,404.7L150.3,404.5L150.5,404.4L150.7,404.3L151.0,404.1L151.3,404.0L151.8,403.8L152.3,403.6L152.8,403.5L153.4,403.3L154.0,403.2L154.6,403.1L155.2,402.9L155.8,402.8L156.5,402.8L157.1,402.7L157.8,402.7L158.5,402.6L159.2,402.6L159.9,402.6L160.7,402.7L161.4,402.7L162.1,402.8L162.9,402.8L163.6,402.9L164.3,403.0L165.0,403.1L165.7,403.3L166.4,403.4L167.1,403.6L167.9,403.8L168.6,404.0L169.3,404.2L170.0,404.3L170.7,404.5L171.4,404.7L172.1,404.9L172.8,405.0L173.6,405.2L174.3,405.4L175.0,405.6L175.8,405.7L176.5,405.9L177.2,406.0L177.9,406.2L178.6,406.3L179.2,406.4L179.8,406.5L180.4,406.6L180.9,406.7L181.5,406.7L182.0,406.8L182.6,406.8L183.2,406.9L183.7,406.9L184.3,406.9L184.9,406.9L185.4,406.9L186.0,406.9L186.6,406.8L187.1,406.8L187.7,406.7L188.3,406.6L188.8,406.5L189.4,406.4L190.0,406.3L190.7,406.1L191.4,405.9L192.1,405.7L192.8,405.4L193.5,405.1L194.2,404.8L194.9,404.5L195.6,404.3L196.4,404.0L197.1,403.7L197.9,403.4L198.7,403.1L199.5,402.8L200.3,402.5L201.1,402.2L201.9,401.9L202.7,401.6L203.5,401.3L204.3,401.1L205.1,400.9L205.8,400.7L206.6,400.6L207.3,400.5L208.0,400.4L208.7,400.3L209.4,400.2L210.1,400.2L210.9,400.1L211.6,400.1L212.3,400.1L213.0,400.1L213.7,400.2L214.4,400.2L215.1,400.3L215.9,400.4L216.6,400.5L217.3,400.6L218.0,400.7L218.7,400.8L219.4,400.9L220.1,401.0L220.8,401.1L221.6,401.2L222.3,401.3L223.0,401.4L223.7,401.5L224.4,401.6L225.2,401.7L225.9,401.8L226.6,401.9L227.3,402.0L228.0,402.0L228.8,402.0L229.5,402.0L230.2,402.1L230.9,402.1L231.6,402.1L232.3,402.2L233.0,402.2L233.7,402.3L234.3,402.4L234.9,402.5L235.5,402.6L236.1,402.7L236.7,402.8L237.2,403.0L237.8,403.1L238.3,403.3L238.9,403.5L239.4,403.7L239.9,403.9L240.3,404.2L240.8,404.4L241.2,404.7L241.7,405.0L242.1,405.3L242.5,405.6L242.9,405.9L243.3,406.2L243.7,406.6L244.1,407.0L244.5,407.5L244.9,408.0L245.2,408.5L245.6,409.0L245.9,409.5L246.3,410.1L246.6,410.6L247.0,411.1L247.3,411.6L247.6,412.1L247.9,412.5L248.2,413.0L248.6,413.5L248.9,414.0L249.2,414.5L249.5,414.9L249.7,415.3L250.0,415.6L250.3,415.9L250.5,416.0L250.6,416.2L250.8,416.3L250.9,416.4L251.0,416.5L251.2,416.6L251.3,416.7L251.5,416.7L251.6,416.7L251.7,416.7L251.8,416.6L251.9,416.5L252.0,416.4L252.1,416.2L252.2,416.0L252.3,415.8L252.4,415.6L252.4,415.4L252.5,415.2L252.6,415.0L252.7,414.8L252.8,414.5L252.9,414.3L253.0,414.0L253.1,413.8L253.2,413.5L253.3,413.3L253.4,413.0L253.6,412.7L253.7,412.4L253.9,411.9L254.2,411.3L254.5,410.7L254.8,410.1L255.2,409.5L255.5,408.8L255.9,408.2L256.3,407.6L256.7,407.0L257.1,406.4L257.5,405.8L258.0,405.3L258.5,404.7L258.9,404.2L259.4,403.6L260.0,403.1L260.5,402.6L261.1,402.1L261.7,401.7L262.3,401.3L263.0,400.9L263.8,400.6L264.7,400.2L265.5,400.0L266.4,399.7L267.3,399.5L268.2,399.3L269.1,399.1L270.0,398.9L270.9,398.7L271.7,398.5L272.6,398.3L273.4,398.1L274.3,397.9L275.1,397.8L276.0,397.6L276.8,397.5L277.7,397.4L278.5,397.3L279.4,397.3L280.3,397.3L281.2,397.3L282.1,397.4L283.0,397.5L283.9,397.6L284.8,397.8L285.7,398.0L286.5,398.2L287.3,398.4L288.0,398.7L288.5,398.9L289.0,399.2L289.5,399.5L290.0,399.8L290.4,400.1L290.8,400.4L291.2,400.8L291.6,401.2L292.0,401.6L292.3,402.1L292.7,402.8L293.0,403.5L293.3,404.3L293.5,405.1L293.7,406.0L293.8,406.9L294.0,407.9L294.2,408.8L294.3,409.8L294.5,410.7L294.7,411.8L294.9,413.0L295.1,414.1L295.3,415.3L295.4,416.5L295.6,417.7L295.8,419.0L295.9,420.2L296.1,421.5L296.2,422.7L296.3,424.0L296.5,425.3L296.6,426.7L296.7,428.0L296.8,429.4L296.9,430.7L297.0,432.1L297.1,433.5L297.3,434.9L297.4,436.4L297.6,438.1L297.8,439.9L298.0,441.7L298.2,443.5L298.4,445.3L298.7,447.2L298.9,449.1L299.1,451.1L299.3,453.0L299.5,455.0L299.7,457.3L299.9,459.7L300.1,462.0L300.3,464.4L300.4,466.9L300.6,469.4L300.8,472.0L300.9,474.6L301.1,477.2L301.2,480.0L301.3,483.9L301.4,488.5L301.4,493.5L301.3,498.6L301.3,503.7L301.3,508.5L301.4,512.8L301.6,516.3L301.9,518.8L302.4,520.0L302.5,520.1L302.6,520.1L302.7,520.2L302.8,520.2L302.9,520.2L303.0,520.2L303.1,520.2L303.2,520.1L303.3,520.1L303.4,520.0L304.1,517.1L304.6,510.8L304.8,501.8L304.8,490.8L304.7,478.6L304.5,465.9L304.3,453.4L304.2,442.0L304.1,432.2L304.2,425.0L304.2,422.5L304.2,420.2L304.2,418.0L304.1,415.9L304.0,414.0L304.1,412.3L304.2,410.7L304.4,409.3L304.7,408.0L305.2,407.0L305.6,406.5L306.0,406.1L306.4,405.8L306.9,405.5L307.4,405.3L307.9,405.1L308.4,404.9L308.9,404.8L309.5,404.6L310.0,404.5L310.6,404.4L311.1,404.3L311.7,404.2L312.3,404.1L312.9,404.1L313.6,404.1L314.2,404.1L314.8,404.1L315.4,404.0L316.0,404.0" fill="none" stroke="#951c1c" stroke-width="1.65" stroke-linejoin="round"/></g>
<rect x="65.70" y="428" width="70" height="60.00" fill="#fff"/>
<path d="M66.0,435.6L66.9,435.8L67.8,436.0L68.7,436.2L69.6,436.4L70.5,436.6L71.4,436.8L72.3,437.0L73.2,437.3L74.1,437.5L75.0,437.8L76.0,438.1L77.1,438.5L78.1,438.9L79.2,439.3L80.3,439.7L81.3,440.1L82.3,440.6L83.3,441.1L84.2,441.6L85.0,442.1L85.6,442.6L86.2,443.0L86.7,443.5L87.2,444.0L87.7,444.5L88.2,445.1L88.6,445.6L89.1,446.2L89.5,446.8L90.0,447.4L90.5,448.2L91.1,448.9L91.6,449.8L92.1,450.6L92.7,451.5L93.2,452.4L93.6,453.3L94.1,454.2L94.6,455.1L95.0,456.0L95.4,456.9L95.8,457.9L96.2,458.9L96.6,459.9L96.9,460.9L97.2,461.9L97.6,462.9L97.9,463.9L98.2,465.0L98.5,466.0L98.8,467.2L99.2,468.4L99.5,469.6L99.8,470.9L100.1,472.2L100.3,473.4L100.6,474.7L100.9,475.9L101.2,477.0L101.5,478.0L101.7,478.7L101.9,479.5L102.1,480.3L102.3,481.1L102.6,481.9L102.8,482.6L103.0,483.2L103.2,483.6L103.4,483.9L103.6,484.0L103.8,483.9L104.0,483.6L104.2,483.2L104.4,482.6L104.6,481.9L104.8,481.1L105.0,480.3L105.2,479.5L105.4,478.7L105.6,478.0L105.9,476.9L106.1,475.8L106.4,474.6L106.6,473.4L106.8,472.1L107.1,470.8L107.3,469.4L107.5,468.2L107.8,466.9L108.0,465.7L108.2,464.6L108.4,463.5L108.6,462.5L108.8,461.4L109.0,460.3L109.2,459.3L109.5,458.3L109.7,457.3L110.0,456.3L110.3,455.4L110.6,454.6L110.9,453.9L111.2,453.2L111.5,452.4L111.8,451.7L112.1,451.1L112.5,450.4L112.9,449.8L113.3,449.2L113.7,448.6L114.1,448.1L114.5,447.6L115.0,447.2L115.4,446.7L115.9,446.3L116.4,445.9L116.9,445.5L117.4,445.2L117.8,444.9L118.3,444.6L118.7,444.4L119.0,444.3L119.4,444.1L119.8,444.0L120.2,443.9L120.5,443.8L120.9,443.7L121.3,443.7L121.6,443.6L122.0,443.6L122.3,443.6L122.6,443.6L123.0,443.6L123.3,443.6L123.6,443.6L123.9,443.6L124.2,443.7L124.5,443.8L124.8,443.9L125.1,444.0L125.4,444.2L125.6,444.3L125.9,444.6L126.1,444.8L126.3,445.1L126.6,445.3L126.8,445.6L127.0,445.8L127.2,446.1L127.4,446.3L127.6,446.5L127.7,446.7L127.9,446.8L128.1,447.0L128.2,447.2L128.4,447.3L128.5,447.5L128.7,447.7L128.8,447.8L129.0,448.0" fill="none" stroke="#ffbf00" stroke-width="1.65" stroke-linejoin="round" stroke-dasharray="3.2,3"/>
<path d="M66.0,435.4L69.5,435.6L73.0,435.8L76.6,436.0L80.3,436.2L83.9,436.4L87.4,436.7L90.8,436.9L94.1,437.1L97.2,437.3L100.0,437.5L101.8,437.6L103.5,437.8L105.1,437.9L106.7,438.0L108.2,438.2L109.6,438.3L111.0,438.4L112.4,438.6L113.7,438.7L115.0,438.9L115.9,439.0L116.8,439.1L117.6,439.2L118.4,439.3L119.2,439.4L120.0,439.5L120.7,439.6L121.5,439.7L122.2,440.0L122.9,440.2L123.5,440.5L124.2,440.8L124.8,441.1L125.5,441.5L126.1,441.9L126.7,442.3L127.2,442.7L127.7,443.1L128.2,443.6L128.6,444.0L128.9,444.3L129.1,444.7L129.3,445.0L129.5,445.3L129.7,445.7L129.9,446.0L130.0,446.4L130.2,446.8L130.3,447.1L130.5,447.5L130.7,447.9L130.8,448.3L131.0,448.8L131.2,449.2L131.3,449.7L131.5,450.1L131.6,450.6L131.7,451.1L131.9,451.5L132.0,452.0L132.1,452.5L132.3,453.0L132.4,453.5L132.5,454.0L132.7,454.5L132.8,455.0L132.9,455.5L133.0,456.0L133.1,456.5L133.2,457.0L133.3,457.4L133.3,457.9L133.4,458.3L133.4,458.7L133.5,459.2L133.5,459.6L133.6,460.0L133.6,460.4L133.6,460.8L133.7,461.1L133.7,461.3L133.8,461.5L133.8,461.7L133.9,461.9L133.9,462.1L133.9,462.3L134.0,462.5L134.0,462.6L134.1,462.8L134.1,463.0" fill="none" stroke="#ffbf00" stroke-width="1.65" stroke-linejoin="round"/>
<path d="M66.0,434.6L69.5,434.7L73.0,434.8L76.6,434.9L80.3,434.9L83.9,435.0L87.4,435.1L90.8,435.2L94.1,435.3L97.2,435.4L100.0,435.6L101.8,435.7L103.5,435.9L105.1,436.0L106.7,436.2L108.2,436.3L109.6,436.5L111.0,436.6L112.4,436.8L113.7,436.9L115.0,437.1L115.9,437.2L116.8,437.3L117.6,437.4L118.5,437.5L119.3,437.6L120.1,437.7L120.8,437.8L121.5,437.9L122.2,438.0L122.9,438.2L123.4,438.3L123.8,438.5L124.3,438.6L124.7,438.7L125.1,438.9L125.5,439.1L125.9,439.2L126.2,439.4L126.6,439.6L127.0,439.8L127.4,440.0L127.7,440.2L128.1,440.4L128.4,440.7L128.7,440.9L129.1,441.1L129.4,441.4L129.7,441.7L130.0,442.0L130.3,442.3L130.6,442.7L131.0,443.2L131.3,443.7L131.6,444.3L131.9,444.8L132.1,445.4L132.4,445.9L132.6,446.4L132.9,446.9L133.1,447.4L133.2,447.7L133.4,448.0L133.5,448.2L133.6,448.5L133.7,448.8L133.9,449.0L134.0,449.2L134.1,449.5L134.2,449.7L134.3,450.0" fill="none" stroke="#1a1aff" stroke-width="1.65" stroke-linejoin="round"/>
<path d="M66.0,434.6L69.5,434.7L73.0,434.8L76.6,434.9L80.3,435.0L83.9,435.1L87.4,435.2L90.8,435.4L94.1,435.5L97.2,435.6L100.0,435.8L101.8,435.9L103.5,436.0L105.1,436.2L106.7,436.3L108.2,436.4L109.6,436.6L111.0,436.7L112.4,436.9L113.7,437.0L115.0,437.2L115.9,437.3L116.8,437.4L117.6,437.5L118.5,437.6L119.3,437.7L120.1,437.9L120.8,438.0L121.5,438.1L122.2,438.3L122.9,438.5L123.4,438.7L123.8,438.8L124.3,439.0L124.7,439.2L125.1,439.4L125.5,439.6L125.9,439.8L126.3,440.0L126.6,440.3L127.0,440.5L127.3,440.7L127.6,440.9L127.9,441.1L128.2,441.4L128.5,441.6L128.7,441.8L129.0,442.1L129.2,442.3L129.5,442.6L129.7,442.9L129.9,443.2L130.1,443.5L130.3,443.9L130.5,444.2L130.7,444.6L130.9,445.0L131.0,445.3L131.2,445.7L131.4,446.1L131.5,446.5L131.6,446.9L131.8,447.3L131.9,447.7L132.0,448.2L132.1,448.6L132.2,449.0L132.3,449.5L132.4,449.9L132.5,450.4L132.6,450.9L132.7,451.5L132.8,452.2L133.0,452.9L133.1,453.6L133.2,454.4L133.3,455.1L133.4,455.8L133.5,456.5L133.6,457.1L133.7,457.7L133.8,458.1L133.8,458.4L133.8,458.8L133.9,459.1L133.9,459.4L134.0,459.7L134.0,460.0L134.0,460.4L134.1,460.7L134.1,461.0" fill="none" stroke="#951c1c" stroke-width="1.65" stroke-linejoin="round"/>
<path d="M65.70,433V488.00H134.3" fill="none" stroke="#4a4a4a" stroke-width="1.2"/>
<path d="M65.70,433.90h1.8M65.70,445.95h1.8M65.70,458.00h1.8M65.70,470.05h1.8M65.70,482.10h1.8M65.70,488.00v-1.8M74.22,488.00v-1.8M82.75,488.00v-1.8M91.28,488.00v-1.8M99.80,488.00v-1.8M108.33,488.00v-1.8M116.85,488.00v-1.8M125.37,488.00v-1.8M133.90,488.00v-1.8" stroke="#333" stroke-width="0.9" fill="none"/>
<text x="63.80" y="436.30" font-size="7.10" text-anchor="end" fill="#222" style="color:#222">0</text>
<text x="63.80" y="460.40" font-size="7.10" text-anchor="end" fill="#222" style="color:#222">-200</text>
<text x="63.80" y="484.50" font-size="7.10" text-anchor="end" fill="#222" style="color:#222">-400</text>
<text x="65.70" y="495.10" font-size="7.10" text-anchor="middle" fill="#222" style="color:#222">2.80</text>
<text x="82.75" y="495.10" font-size="7.10" text-anchor="middle" fill="#222" style="color:#222">2.85</text>
<text x="99.80" y="495.10" font-size="7.10" text-anchor="middle" fill="#222" style="color:#222">2.90</text>
<text x="116.85" y="495.10" font-size="7.10" text-anchor="middle" fill="#222" style="color:#222">2.95</text>
<text x="133.90" y="495.10" font-size="7.10" text-anchor="middle" fill="#222" style="color:#222">3.00</text>
<path d="M170.4,458.0L170.9,457.3L171.3,456.6L171.8,455.8L172.2,455.1L172.7,454.4L173.2,453.6L173.6,452.9L174.1,452.3L174.5,451.6L175.0,451.0L175.4,450.5L175.7,450.1L176.0,449.6L176.4,449.2L176.7,448.8L177.0,448.4L177.4,448.0L177.8,447.7L178.2,447.3L178.6,447.0L179.1,446.6L179.6,446.3L180.2,446.0L180.8,445.6L181.4,445.3L182.0,445.1L182.6,444.8L183.2,444.6L183.8,444.4L184.3,444.3L184.7,444.2L185.1,444.2L185.4,444.2L185.8,444.2L186.2,444.2L186.5,444.2L186.9,444.3L187.3,444.3L187.6,444.4L188.0,444.5L188.5,444.6L189.0,444.8L189.5,445.0L190.0,445.2L190.5,445.5L191.0,445.8L191.5,446.1L192.0,446.4L192.5,446.7L192.9,447.0L193.3,447.3L193.7,447.7L194.1,448.1L194.4,448.5L194.8,448.9L195.1,449.3L195.5,449.7L195.8,450.1L196.2,450.6L196.5,451.0L196.9,451.4L197.2,451.9L197.6,452.4L197.9,452.8L198.3,453.3L198.7,453.8L199.0,454.2L199.3,454.7L199.7,455.2L200.0,455.7L200.3,456.2L200.6,456.7L201.0,457.2L201.3,457.8L201.6,458.3L201.9,458.8L202.1,459.4L202.4,459.9L202.7,460.4L203.0,461.0L203.3,461.6L203.6,462.2L203.8,462.8L204.1,463.5L204.3,464.1L204.6,464.8L204.9,465.4L205.1,466.0L205.4,466.5L205.7,467.0L205.9,467.4L206.1,467.7L206.4,468.0L206.6,468.4L206.8,468.7L207.0,469.0L207.3,469.2L207.5,469.4L207.8,469.6L208.0,469.8L208.2,469.9L208.4,470.0L208.6,470.0L208.8,470.1L209.0,470.1L209.2,470.1L209.4,470.1L209.6,470.1L209.8,470.1L210.0,470.0L210.3,469.9L210.5,469.8L210.8,469.6L211.0,469.5L211.3,469.2L211.5,469.0L211.8,468.8L212.0,468.5L212.3,468.3L212.5,468.0L212.8,467.6L213.2,467.2L213.5,466.7L213.8,466.2L214.1,465.7L214.5,465.2L214.8,464.6L215.1,464.0L215.4,463.5L215.7,462.9L216.0,462.2L216.4,461.5L216.7,460.8L217.0,460.0L217.3,459.3L217.7,458.5L218.0,457.7L218.3,457.0L218.6,456.2L219.0,455.5L219.4,454.8L219.7,454.1L220.1,453.4L220.5,452.7L220.9,451.9L221.3,451.3L221.7,450.6L222.1,449.9L222.5,449.2L222.9,448.6L223.3,448.0L223.6,447.5L224.0,447.0L224.3,446.4L224.7,445.9L225.0,445.4L225.4,444.9L225.8,444.4L226.1,444.0L226.5,443.5L226.8,443.1L227.2,442.7L227.5,442.3L227.8,441.9L228.2,441.6L228.5,441.2L228.9,440.9L229.2,440.6L229.6,440.3L230.0,440.0L230.4,439.8L230.8,439.5L231.3,439.3L231.8,439.1L232.2,438.9L232.7,438.7L233.2,438.6L233.6,438.5L234.0,438.5L234.3,438.6L234.5,438.7L234.7,438.9L234.9,439.1L235.1,439.3L235.3,439.5L235.4,439.8L235.6,440.1L235.7,440.4L235.9,440.7L236.0,441.0L236.2,441.4L236.4,441.9L236.5,442.3L236.7,442.9L236.8,443.4L236.9,443.9L237.1,444.4L237.2,445.0L237.4,445.5L237.5,446.0" fill="none" stroke="#ffbf00" stroke-width="1.65" stroke-linejoin="round" stroke-dasharray="3.2,3"/>
<path d="M170.4,464.3L170.8,463.7L171.1,463.1L171.4,462.5L171.8,461.9L172.1,461.3L172.5,460.7L172.8,460.1L173.2,459.6L173.6,459.0L174.0,458.5L174.4,458.0L174.8,457.6L175.3,457.1L175.7,456.7L176.2,456.3L176.7,455.9L177.1,455.5L177.6,455.1L178.1,454.7L178.6,454.3L179.1,453.9L179.7,453.4L180.3,452.9L180.8,452.4L181.4,452.0L182.0,451.5L182.6,451.1L183.2,450.7L183.7,450.4L184.3,450.2L184.7,450.1L185.2,450.0L185.6,449.9L186.0,449.9L186.4,449.8L186.8,449.8L187.2,449.9L187.7,449.9L188.1,449.9L188.5,450.0L188.9,450.1L189.4,450.2L189.9,450.3L190.3,450.4L190.8,450.5L191.2,450.7L191.7,450.8L192.1,451.0L192.5,451.2L192.9,451.4L193.3,451.6L193.6,451.8L193.9,452.1L194.2,452.3L194.5,452.6L194.8,452.9L195.1,453.1L195.4,453.4L195.7,453.7L196.0,454.0L196.3,454.3L196.5,454.6L196.8,454.9L197.0,455.2L197.3,455.5L197.5,455.8L197.8,456.1L198.0,456.5L198.3,456.8L198.6,457.1L199.0,457.5L199.4,458.0L199.8,458.5L200.3,458.9L200.7,459.4L201.2,459.9L201.6,460.3L202.1,460.7L202.5,461.0L202.9,461.2L203.1,461.3L203.3,461.4L203.6,461.4L203.8,461.4L204.0,461.4L204.2,461.4L204.4,461.4L204.6,461.4L204.8,461.3L205.0,461.3L205.2,461.2L205.4,461.2L205.6,461.1L205.8,460.9L206.0,460.8L206.2,460.7L206.4,460.5L206.7,460.4L206.9,460.2L207.1,460.0L207.5,459.7L207.8,459.4L208.2,459.0L208.6,458.6L209.0,458.2L209.4,457.7L209.8,457.3L210.2,456.9L210.6,456.4L211.0,456.0L211.5,455.5L211.9,455.1L212.4,454.6L212.9,454.2L213.3,453.7L213.8,453.2L214.3,452.8L214.8,452.3L215.2,451.8L215.7,451.4L216.1,451.0L216.6,450.5L217.0,450.1L217.4,449.7L217.8,449.3L218.3,448.9L218.7,448.5L219.1,448.1L219.6,447.7L220.0,447.3L220.4,447.0L220.8,446.6L221.3,446.3L221.7,446.0L222.1,445.7L222.5,445.3L223.0,445.1L223.4,444.8L223.9,444.5L224.3,444.3L224.7,444.1L225.1,443.9L225.6,443.7L226.0,443.5L226.4,443.3L226.9,443.1L227.3,443.0L227.8,442.9L228.2,442.9L228.6,442.9L229.1,443.0L229.5,443.1L230.0,443.3L230.4,443.6L230.9,443.9L231.3,444.2L231.8,444.6L232.2,444.9L232.5,445.3L232.9,445.7L233.3,446.2L233.6,446.7L233.9,447.2L234.1,447.8L234.4,448.4L234.6,449.0L234.9,449.6L235.1,450.2L235.3,450.9L235.5,451.5L235.7,452.2L235.9,452.9L236.1,453.6L236.3,454.3L236.5,455.0L236.6,455.7L236.8,456.4L237.0,457.2L237.1,457.9L237.3,458.6" fill="none" stroke="#ffbf00" stroke-width="1.65" stroke-linejoin="round"/>
<path d="M170.4,453.7L170.8,453.2L171.1,452.6L171.5,452.1L171.9,451.6L172.2,451.0L172.6,450.5L172.9,450.0L173.3,449.5L173.7,449.0L174.0,448.5L174.3,448.1L174.5,447.7L174.8,447.3L175.1,447.0L175.3,446.6L175.6,446.3L175.8,445.9L176.1,445.6L176.4,445.3L176.7,445.0L177.0,444.7L177.3,444.5L177.6,444.3L178.0,444.1L178.3,443.9L178.6,443.7L179.0,443.5L179.3,443.3L179.7,443.2L180.0,443.0L180.3,442.8L180.7,442.7L181.0,442.5L181.3,442.4L181.7,442.2L182.0,442.1L182.3,442.0L182.7,441.9L183.0,441.8L183.3,441.7L183.6,441.6L183.9,441.6L184.1,441.6L184.4,441.5L184.7,441.5L184.9,441.5L185.2,441.5L185.5,441.5L185.7,441.6L186.0,441.6L186.3,441.6L186.5,441.7L186.7,441.8L187.0,441.8L187.2,441.9L187.5,442.0L187.7,442.1L188.0,442.2L188.2,442.4L188.5,442.5L188.9,442.7L189.3,443.0L189.8,443.3L190.2,443.6L190.7,443.9L191.1,444.3L191.6,444.7L192.0,445.0L192.5,445.4L192.9,445.7L193.3,446.0L193.7,446.4L194.2,446.7L194.6,447.1L195.0,447.4L195.4,447.8L195.8,448.1L196.2,448.4L196.6,448.7L197.0,449.0L197.3,449.2L197.6,449.4L197.9,449.6L198.2,449.8L198.5,449.9L198.8,450.1L199.1,450.2L199.4,450.4L199.7,450.5L200.0,450.6L200.3,450.7L200.6,450.8L200.9,450.8L201.1,450.9L201.4,450.9L201.7,451.0L202.0,451.0L202.3,451.0L202.6,450.9L202.9,450.9L203.3,450.8L203.6,450.7L204.0,450.5L204.3,450.3L204.7,450.1L205.1,449.9L205.4,449.6L205.8,449.4L206.1,449.2L206.5,449.0L206.9,448.8L207.2,448.6L207.6,448.5L207.9,448.3L208.2,448.1L208.6,447.9L208.9,447.7L209.3,447.5L209.6,447.3L210.0,447.1L210.4,446.8L210.8,446.6L211.2,446.3L211.6,446.0L212.0,445.7L212.4,445.4L212.8,445.1L213.2,444.8L213.6,444.5L214.0,444.2L214.4,443.9L214.9,443.6L215.4,443.3L215.8,443.0L216.3,442.7L216.8,442.5L217.3,442.2L217.7,441.9L218.2,441.6L218.6,441.4L219.0,441.2L219.3,441.0L219.6,440.8L220.0,440.6L220.3,440.4L220.6,440.2L221.0,440.1L221.3,439.9L221.6,439.7L222.0,439.6L222.4,439.5L222.7,439.3L223.1,439.2L223.5,439.1L223.9,439.0L224.2,438.9L224.6,438.8L225.0,438.7L225.3,438.6L225.7,438.6L226.0,438.6L226.3,438.6L226.6,438.6L226.8,438.6L227.1,438.6L227.4,438.6L227.7,438.6L227.9,438.7L228.2,438.7L228.5,438.8L228.8,438.9L229.1,438.9L229.4,439.0L229.7,439.1L230.0,439.2L230.3,439.3L230.6,439.4L230.9,439.6L231.1,439.8L231.4,440.0L231.8,440.4L232.1,440.8L232.5,441.4L232.8,441.9L233.1,442.5L233.4,443.2L233.7,443.9L234.0,444.6L234.2,445.3L234.5,446.0L234.8,447.0L235.1,448.0L235.4,449.1L235.7,450.2L236.0,451.3L236.2,452.5L236.5,453.7L236.8,454.8L237.0,456.0L237.3,457.1" fill="none" stroke="#1a1aff" stroke-width="1.65" stroke-linejoin="round"/>
<path d="M170.4,458.5L170.8,457.8L171.1,457.1L171.5,456.4L171.9,455.6L172.2,454.9L172.6,454.2L173.0,453.5L173.3,452.8L173.7,452.2L174.0,451.5L174.3,450.9L174.6,450.4L174.8,449.9L175.1,449.3L175.3,448.8L175.6,448.3L175.8,447.8L176.1,447.3L176.4,446.8L176.7,446.3L177.0,445.9L177.3,445.4L177.6,445.0L177.9,444.6L178.3,444.2L178.6,443.8L179.0,443.4L179.3,443.0L179.7,442.6L180.0,442.3L180.3,442.0L180.6,441.7L181.0,441.4L181.3,441.2L181.6,440.9L181.9,440.7L182.3,440.4L182.6,440.2L183.0,439.9L183.3,439.7L183.6,439.5L184.0,439.2L184.3,439.0L184.7,438.8L185.1,438.6L185.4,438.3L185.8,438.1L186.2,438.0L186.6,437.8L187.0,437.6L187.5,437.4L188.1,437.2L188.7,437.0L189.3,436.9L189.9,436.7L190.6,436.6L191.2,436.5L191.8,436.4L192.4,436.3L192.9,436.3L193.3,436.3L193.7,436.3L194.0,436.4L194.4,436.4L194.8,436.5L195.1,436.6L195.5,436.7L195.8,436.8L196.2,436.9L196.5,437.0L196.9,437.1L197.2,437.3L197.6,437.4L197.9,437.6L198.3,437.7L198.6,437.9L199.0,438.1L199.3,438.2L199.7,438.4L200.0,438.6L200.4,438.8L200.7,439.0L201.1,439.2L201.4,439.3L201.7,439.5L202.1,439.7L202.4,439.9L202.8,440.1L203.1,440.3L203.5,440.5L203.9,440.7L204.2,440.9L204.6,441.1L204.9,441.2L205.3,441.4L205.6,441.6L206.0,441.8L206.4,442.0L206.7,442.1L207.1,442.3L207.5,442.5L207.9,442.6L208.2,442.8L208.6,442.9L209.0,443.1L209.4,443.2L209.8,443.3L210.2,443.5L210.6,443.6L211.0,443.8L211.5,444.0L211.9,444.2L212.4,444.3L212.9,444.5L213.4,444.7L213.8,444.9L214.3,445.1L214.8,445.3L215.3,445.5L215.7,445.7L216.1,445.9L216.5,446.0L216.9,446.2L217.3,446.4L217.7,446.6L218.0,446.7L218.4,446.9L218.8,447.1L219.1,447.3L219.5,447.5L219.9,447.7L220.2,447.9L220.6,448.2L220.9,448.4L221.2,448.7L221.6,448.9L221.9,449.2L222.2,449.5L222.6,449.7L222.9,450.0L223.2,450.3L223.6,450.6L223.9,450.8L224.2,451.1L224.5,451.4L224.8,451.7L225.1,452.0L225.4,452.3L225.7,452.7L226.0,453.0L226.3,453.4L226.6,453.7L226.8,454.1L227.1,454.5L227.4,454.9L227.6,455.4L227.9,455.8L228.1,456.2L228.4,456.7L228.6,457.1L228.9,457.6L229.1,458.1L229.4,458.6L229.6,459.2L229.9,459.7L230.1,460.3L230.3,460.8L230.6,461.4L230.8,461.9L231.0,462.5L231.2,463.1L231.4,463.7L231.6,464.3L231.8,464.9L232.0,465.5L232.2,466.1L232.4,466.7L232.6,467.4L232.7,468.0L232.9,468.6L233.1,469.2L233.2,469.9L233.4,470.5L233.6,471.1L233.7,471.8L233.9,472.4L234.1,473.1L234.2,473.7L234.4,474.4L234.5,475.0L234.6,475.6L234.8,476.3L234.9,476.9L235.0,477.5L235.1,478.2L235.2,478.8L235.3,479.5L235.5,480.1L235.6,480.7L235.7,481.4L235.8,482.1L236.0,482.8L236.1,483.5L236.3,484.2L236.4,485.0L236.5,485.7L236.7,486.4L236.8,487.2L237.0,487.9L237.1,488.6" fill="none" stroke="#951c1c" stroke-width="1.65" stroke-linejoin="round"/>
<path d="M170.40,433V487.70H237.8" fill="none" stroke="#4a4a4a" stroke-width="1.2"/>
<path d="M170.40,440.70h1.8M170.40,460.20h1.8M170.40,479.70h1.8M170.40,487.70v-1.8M181.70,487.70v-1.8M193.00,487.70v-1.8M204.30,487.70v-1.8M215.60,487.70v-1.8M226.90,487.70v-1.8M238.20,487.70v-1.8" stroke="#333" stroke-width="0.9" fill="none"/>
<text x="168.30" y="443.20" font-size="7.10" text-anchor="end" fill="#222" style="color:#222">-200</text>
<text x="168.30" y="482.20" font-size="7.10" text-anchor="end" fill="#222" style="color:#222">-300</text>
<text x="170.40" y="495.10" font-size="7.10" text-anchor="middle" fill="#222" style="color:#222">3.20</text>
<text x="193.00" y="495.10" font-size="7.10" text-anchor="middle" fill="#222" style="color:#222">3.25</text>
<text x="215.60" y="495.10" font-size="7.10" text-anchor="middle" fill="#222" style="color:#222">3.30</text>
<text x="238.20" y="495.10" font-size="7.10" text-anchor="middle" fill="#222" style="color:#222">3.35</text>
<polygon points="107.50,435.00 110.53,430.45 106.19,429.70" fill="#111"/><line x1="108.19" y1="431.06" x2="110.31" y2="418.94" stroke="#111" stroke-width="1.30"/><polygon points="111.00,415.00 112.31,420.30 107.97,419.55" fill="#111"/>
<polygon points="214.90,436.70 218.33,432.45 214.08,431.30" fill="#111"/><line x1="215.94" y1="432.84" x2="221.26" y2="413.16" stroke="#111" stroke-width="1.30"/><polygon points="222.30,409.30 223.12,414.70 218.87,413.55" fill="#111"/>
<text x="110.00" y="340.00" font-size="11.00" text-anchor="start" fill="#111" style="color:#111">"KH"</text>
<text x="142.80" y="310.90" font-size="11.00" text-anchor="start" fill="#111" style="color:#111">H1+M</text>
<text x="249.00" y="355.40" font-size="11.00" text-anchor="start" fill="#111" style="color:#111">M+H2</text>
<text x="268.40" y="285.40" font-size="11.50" text-anchor="start" fill="#111" style="color:#111">H2+H3</text>
<text x="230.80" y="380.60" font-size="12.50" text-anchor="middle" fill="#111" style="color:#111">*</text>
<rect x="47.50" y="270.20" width="300.80" height="242.60" fill="none" stroke="#1a1a1a" stroke-width="1.35"/>
<path d="M77.58,512.80v-6.00M77.58,270.20v6.00M137.74,512.80v-6.00M137.74,270.20v6.00M197.90,512.80v-6.00M197.90,270.20v6.00M258.06,512.80v-6.00M258.06,270.20v6.00M318.22,512.80v-6.00M318.22,270.20v6.00M107.66,512.80v-3.00M107.66,270.20v3.00M167.82,512.80v-3.00M167.82,270.20v3.00M227.98,512.80v-3.00M227.98,270.20v3.00M288.14,512.80v-3.00M288.14,270.20v3.00M47.50,488.54h6.00M348.30,488.54h-6.00M47.50,440.02h6.00M348.30,440.02h-6.00M47.50,391.50h6.00M348.30,391.50h-6.00M47.50,342.98h6.00M348.30,342.98h-6.00M47.50,294.46h6.00M348.30,294.46h-6.00M47.50,464.28h3.00M348.30,464.28h-3.00M47.50,415.76h3.00M348.30,415.76h-3.00M47.50,367.24h3.00M348.30,367.24h-3.00M47.50,318.72h3.00M348.30,318.72h-3.00" stroke="#1a1a1a" stroke-width="1.3" fill="none"/>
<text x="77.58" y="532.30" font-size="16.00" text-anchor="middle" fill="#1a1a1a" style="color:#1a1a1a">2.8</text>
<text x="137.74" y="532.30" font-size="16.00" text-anchor="middle" fill="#1a1a1a" style="color:#1a1a1a">3.0</text>
<text x="197.90" y="532.30" font-size="16.00" text-anchor="middle" fill="#1a1a1a" style="color:#1a1a1a">3.2</text>
<text x="258.06" y="532.30" font-size="16.00" text-anchor="middle" fill="#1a1a1a" style="color:#1a1a1a">3.4</text>
<text x="318.22" y="532.30" font-size="16.00" text-anchor="middle" fill="#1a1a1a" style="color:#1a1a1a">3.6</text>
<text x="40.60" y="493.64" font-size="16.00" text-anchor="end" fill="#1a1a1a" style="color:#1a1a1a">-2</text>
<text x="40.60" y="445.12" font-size="16.00" text-anchor="end" fill="#1a1a1a" style="color:#1a1a1a">-1</text>
<text x="40.60" y="396.60" font-size="16.00" text-anchor="end" fill="#1a1a1a" style="color:#1a1a1a">0</text>
<text x="40.60" y="348.08" font-size="16.00" text-anchor="end" fill="#1a1a1a" style="color:#1a1a1a">1</text>
<text x="40.60" y="299.56" font-size="16.00" text-anchor="end" fill="#1a1a1a" style="color:#1a1a1a">2</text>
<text x="126.80" y="557.70" font-size="16" fill="#1a1a1a"><tspan font-style="italic">U</tspan> / V (In/InLi anode)</text>
<text transform="translate(19.80,452.50) rotate(-90)" font-size="16" fill="#1a1a1a">d<tspan font-style="italic">q</tspan>/d<tspan font-style="italic">U</tspan> / Ah g<tspan font-size="10.5" dy="-6.5">-1</tspan><tspan dy="6.5"> V</tspan><tspan font-size="10.5" dy="-6.5">-1</tspan></text>
</svg>
</body></html>
